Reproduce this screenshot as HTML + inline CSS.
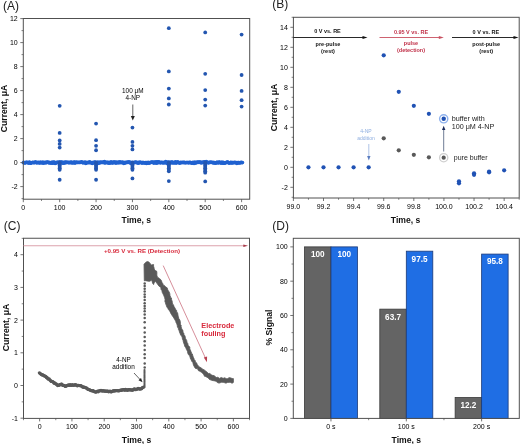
<!DOCTYPE html>
<html><head><meta charset="utf-8"><style>
html,body{margin:0;padding:0;background:#fff;width:520px;height:444px;overflow:hidden}
svg{display:block;filter:blur(0.45px)}
</style></head><body>
<svg width="520" height="444" viewBox="0 0 520 444">
<rect width="520" height="444" fill="#fff"/>
<text x="3.0" y="9.7" font-size="12" fill="#222" font-family="Liberation Sans, sans-serif">(A)</text>
<circle cx="23.30" cy="162.64" r="1.75" fill="#2062d0"/>
<circle cx="23.74" cy="162.37" r="1.75" fill="#2062d0"/>
<circle cx="24.17" cy="162.63" r="1.75" fill="#2062d0"/>
<circle cx="24.61" cy="162.66" r="1.75" fill="#2062d0"/>
<circle cx="25.05" cy="162.88" r="1.75" fill="#2062d0"/>
<circle cx="25.48" cy="162.63" r="1.75" fill="#2062d0"/>
<circle cx="25.92" cy="162.15" r="1.75" fill="#2062d0"/>
<circle cx="26.36" cy="162.40" r="1.75" fill="#2062d0"/>
<circle cx="26.79" cy="162.18" r="1.75" fill="#2062d0"/>
<circle cx="27.23" cy="162.46" r="1.75" fill="#2062d0"/>
<circle cx="27.67" cy="162.41" r="1.75" fill="#2062d0"/>
<circle cx="28.10" cy="162.48" r="1.75" fill="#2062d0"/>
<circle cx="28.54" cy="163.15" r="1.75" fill="#2062d0"/>
<circle cx="28.98" cy="162.24" r="1.75" fill="#2062d0"/>
<circle cx="29.41" cy="162.37" r="1.75" fill="#2062d0"/>
<circle cx="29.85" cy="162.37" r="1.75" fill="#2062d0"/>
<circle cx="30.29" cy="163.16" r="1.75" fill="#2062d0"/>
<circle cx="30.72" cy="163.18" r="1.75" fill="#2062d0"/>
<circle cx="31.16" cy="162.87" r="1.75" fill="#2062d0"/>
<circle cx="31.60" cy="162.72" r="1.75" fill="#2062d0"/>
<circle cx="32.03" cy="162.44" r="1.75" fill="#2062d0"/>
<circle cx="32.47" cy="162.57" r="1.75" fill="#2062d0"/>
<circle cx="32.91" cy="162.36" r="1.75" fill="#2062d0"/>
<circle cx="33.34" cy="162.78" r="1.75" fill="#2062d0"/>
<circle cx="33.78" cy="162.44" r="1.75" fill="#2062d0"/>
<circle cx="34.21" cy="162.41" r="1.75" fill="#2062d0"/>
<circle cx="34.65" cy="162.79" r="1.75" fill="#2062d0"/>
<circle cx="35.09" cy="161.93" r="1.75" fill="#2062d0"/>
<circle cx="35.52" cy="162.35" r="1.75" fill="#2062d0"/>
<circle cx="35.96" cy="162.12" r="1.75" fill="#2062d0"/>
<circle cx="36.40" cy="162.77" r="1.75" fill="#2062d0"/>
<circle cx="36.83" cy="162.82" r="1.75" fill="#2062d0"/>
<circle cx="37.27" cy="162.67" r="1.75" fill="#2062d0"/>
<circle cx="37.71" cy="162.59" r="1.75" fill="#2062d0"/>
<circle cx="38.14" cy="162.32" r="1.75" fill="#2062d0"/>
<circle cx="38.58" cy="162.46" r="1.75" fill="#2062d0"/>
<circle cx="39.02" cy="162.71" r="1.75" fill="#2062d0"/>
<circle cx="39.45" cy="162.89" r="1.75" fill="#2062d0"/>
<circle cx="39.89" cy="162.74" r="1.75" fill="#2062d0"/>
<circle cx="40.33" cy="162.11" r="1.75" fill="#2062d0"/>
<circle cx="40.76" cy="162.84" r="1.75" fill="#2062d0"/>
<circle cx="41.20" cy="162.46" r="1.75" fill="#2062d0"/>
<circle cx="41.64" cy="162.40" r="1.75" fill="#2062d0"/>
<circle cx="42.07" cy="163.09" r="1.75" fill="#2062d0"/>
<circle cx="42.51" cy="162.53" r="1.75" fill="#2062d0"/>
<circle cx="42.95" cy="162.08" r="1.75" fill="#2062d0"/>
<circle cx="43.38" cy="163.28" r="1.75" fill="#2062d0"/>
<circle cx="43.82" cy="162.67" r="1.75" fill="#2062d0"/>
<circle cx="44.26" cy="162.59" r="1.75" fill="#2062d0"/>
<circle cx="44.69" cy="162.84" r="1.75" fill="#2062d0"/>
<circle cx="45.13" cy="162.37" r="1.75" fill="#2062d0"/>
<circle cx="45.57" cy="162.57" r="1.75" fill="#2062d0"/>
<circle cx="46.00" cy="163.08" r="1.75" fill="#2062d0"/>
<circle cx="46.44" cy="162.25" r="1.75" fill="#2062d0"/>
<circle cx="46.88" cy="162.31" r="1.75" fill="#2062d0"/>
<circle cx="47.31" cy="162.21" r="1.75" fill="#2062d0"/>
<circle cx="47.75" cy="162.03" r="1.75" fill="#2062d0"/>
<circle cx="48.19" cy="162.42" r="1.75" fill="#2062d0"/>
<circle cx="48.62" cy="162.51" r="1.75" fill="#2062d0"/>
<circle cx="49.06" cy="163.02" r="1.75" fill="#2062d0"/>
<circle cx="49.50" cy="162.33" r="1.75" fill="#2062d0"/>
<circle cx="49.93" cy="162.77" r="1.75" fill="#2062d0"/>
<circle cx="50.37" cy="162.71" r="1.75" fill="#2062d0"/>
<circle cx="50.81" cy="163.01" r="1.75" fill="#2062d0"/>
<circle cx="51.24" cy="162.90" r="1.75" fill="#2062d0"/>
<circle cx="51.68" cy="162.74" r="1.75" fill="#2062d0"/>
<circle cx="52.12" cy="162.09" r="1.75" fill="#2062d0"/>
<circle cx="52.55" cy="163.28" r="1.75" fill="#2062d0"/>
<circle cx="52.99" cy="163.07" r="1.75" fill="#2062d0"/>
<circle cx="53.43" cy="162.46" r="1.75" fill="#2062d0"/>
<circle cx="53.86" cy="162.03" r="1.75" fill="#2062d0"/>
<circle cx="54.30" cy="162.34" r="1.75" fill="#2062d0"/>
<circle cx="54.74" cy="163.23" r="1.75" fill="#2062d0"/>
<circle cx="55.17" cy="163.46" r="1.75" fill="#2062d0"/>
<circle cx="55.61" cy="162.42" r="1.75" fill="#2062d0"/>
<circle cx="56.05" cy="162.82" r="1.75" fill="#2062d0"/>
<circle cx="56.48" cy="162.95" r="1.75" fill="#2062d0"/>
<circle cx="56.92" cy="162.20" r="1.75" fill="#2062d0"/>
<circle cx="57.35" cy="162.15" r="1.75" fill="#2062d0"/>
<circle cx="57.79" cy="162.49" r="1.75" fill="#2062d0"/>
<circle cx="58.23" cy="162.46" r="1.75" fill="#2062d0"/>
<circle cx="58.66" cy="162.39" r="1.75" fill="#2062d0"/>
<circle cx="59.10" cy="161.98" r="1.75" fill="#2062d0"/>
<circle cx="59.54" cy="162.33" r="1.75" fill="#2062d0"/>
<circle cx="59.97" cy="162.36" r="1.75" fill="#2062d0"/>
<circle cx="60.41" cy="162.35" r="1.75" fill="#2062d0"/>
<circle cx="60.85" cy="163.11" r="1.75" fill="#2062d0"/>
<circle cx="61.28" cy="162.09" r="1.75" fill="#2062d0"/>
<circle cx="61.72" cy="162.21" r="1.75" fill="#2062d0"/>
<circle cx="62.16" cy="162.36" r="1.75" fill="#2062d0"/>
<circle cx="62.59" cy="163.26" r="1.75" fill="#2062d0"/>
<circle cx="63.03" cy="162.78" r="1.75" fill="#2062d0"/>
<circle cx="63.47" cy="162.25" r="1.75" fill="#2062d0"/>
<circle cx="63.90" cy="163.20" r="1.75" fill="#2062d0"/>
<circle cx="64.34" cy="162.62" r="1.75" fill="#2062d0"/>
<circle cx="64.78" cy="162.18" r="1.75" fill="#2062d0"/>
<circle cx="65.21" cy="163.02" r="1.75" fill="#2062d0"/>
<circle cx="65.65" cy="161.97" r="1.75" fill="#2062d0"/>
<circle cx="66.09" cy="162.35" r="1.75" fill="#2062d0"/>
<circle cx="66.52" cy="162.60" r="1.75" fill="#2062d0"/>
<circle cx="66.96" cy="162.43" r="1.75" fill="#2062d0"/>
<circle cx="67.40" cy="162.32" r="1.75" fill="#2062d0"/>
<circle cx="67.83" cy="162.51" r="1.75" fill="#2062d0"/>
<circle cx="68.27" cy="162.14" r="1.75" fill="#2062d0"/>
<circle cx="68.71" cy="162.79" r="1.75" fill="#2062d0"/>
<circle cx="69.14" cy="162.70" r="1.75" fill="#2062d0"/>
<circle cx="69.58" cy="162.17" r="1.75" fill="#2062d0"/>
<circle cx="70.02" cy="162.54" r="1.75" fill="#2062d0"/>
<circle cx="70.45" cy="162.87" r="1.75" fill="#2062d0"/>
<circle cx="70.89" cy="162.21" r="1.75" fill="#2062d0"/>
<circle cx="71.33" cy="162.02" r="1.75" fill="#2062d0"/>
<circle cx="71.76" cy="162.71" r="1.75" fill="#2062d0"/>
<circle cx="72.20" cy="163.05" r="1.75" fill="#2062d0"/>
<circle cx="72.64" cy="162.60" r="1.75" fill="#2062d0"/>
<circle cx="73.07" cy="162.60" r="1.75" fill="#2062d0"/>
<circle cx="73.51" cy="162.66" r="1.75" fill="#2062d0"/>
<circle cx="73.95" cy="162.04" r="1.75" fill="#2062d0"/>
<circle cx="74.38" cy="162.92" r="1.75" fill="#2062d0"/>
<circle cx="74.82" cy="162.10" r="1.75" fill="#2062d0"/>
<circle cx="75.26" cy="163.01" r="1.75" fill="#2062d0"/>
<circle cx="75.69" cy="162.83" r="1.75" fill="#2062d0"/>
<circle cx="76.13" cy="162.32" r="1.75" fill="#2062d0"/>
<circle cx="76.57" cy="162.14" r="1.75" fill="#2062d0"/>
<circle cx="77.00" cy="162.24" r="1.75" fill="#2062d0"/>
<circle cx="77.44" cy="162.43" r="1.75" fill="#2062d0"/>
<circle cx="77.88" cy="162.50" r="1.75" fill="#2062d0"/>
<circle cx="78.31" cy="162.50" r="1.75" fill="#2062d0"/>
<circle cx="78.75" cy="162.34" r="1.75" fill="#2062d0"/>
<circle cx="79.18" cy="162.61" r="1.75" fill="#2062d0"/>
<circle cx="79.62" cy="162.45" r="1.75" fill="#2062d0"/>
<circle cx="80.06" cy="162.34" r="1.75" fill="#2062d0"/>
<circle cx="80.49" cy="162.55" r="1.75" fill="#2062d0"/>
<circle cx="80.93" cy="162.27" r="1.75" fill="#2062d0"/>
<circle cx="81.37" cy="162.35" r="1.75" fill="#2062d0"/>
<circle cx="81.80" cy="161.83" r="1.75" fill="#2062d0"/>
<circle cx="82.24" cy="162.43" r="1.75" fill="#2062d0"/>
<circle cx="82.68" cy="162.70" r="1.75" fill="#2062d0"/>
<circle cx="83.11" cy="162.68" r="1.75" fill="#2062d0"/>
<circle cx="83.55" cy="162.55" r="1.75" fill="#2062d0"/>
<circle cx="83.99" cy="162.22" r="1.75" fill="#2062d0"/>
<circle cx="84.42" cy="162.67" r="1.75" fill="#2062d0"/>
<circle cx="84.86" cy="162.41" r="1.75" fill="#2062d0"/>
<circle cx="85.30" cy="161.89" r="1.75" fill="#2062d0"/>
<circle cx="85.73" cy="163.47" r="1.75" fill="#2062d0"/>
<circle cx="86.17" cy="162.95" r="1.75" fill="#2062d0"/>
<circle cx="86.61" cy="162.46" r="1.75" fill="#2062d0"/>
<circle cx="87.04" cy="162.41" r="1.75" fill="#2062d0"/>
<circle cx="87.48" cy="162.46" r="1.75" fill="#2062d0"/>
<circle cx="87.92" cy="162.71" r="1.75" fill="#2062d0"/>
<circle cx="88.35" cy="162.31" r="1.75" fill="#2062d0"/>
<circle cx="88.79" cy="162.45" r="1.75" fill="#2062d0"/>
<circle cx="89.23" cy="162.74" r="1.75" fill="#2062d0"/>
<circle cx="89.66" cy="161.68" r="1.75" fill="#2062d0"/>
<circle cx="90.10" cy="162.42" r="1.75" fill="#2062d0"/>
<circle cx="90.54" cy="162.75" r="1.75" fill="#2062d0"/>
<circle cx="90.97" cy="162.59" r="1.75" fill="#2062d0"/>
<circle cx="91.41" cy="162.63" r="1.75" fill="#2062d0"/>
<circle cx="91.85" cy="162.57" r="1.75" fill="#2062d0"/>
<circle cx="92.28" cy="163.53" r="1.75" fill="#2062d0"/>
<circle cx="92.72" cy="162.73" r="1.75" fill="#2062d0"/>
<circle cx="93.16" cy="162.19" r="1.75" fill="#2062d0"/>
<circle cx="93.59" cy="162.97" r="1.75" fill="#2062d0"/>
<circle cx="94.03" cy="162.57" r="1.75" fill="#2062d0"/>
<circle cx="94.47" cy="162.21" r="1.75" fill="#2062d0"/>
<circle cx="94.90" cy="162.24" r="1.75" fill="#2062d0"/>
<circle cx="95.34" cy="162.01" r="1.75" fill="#2062d0"/>
<circle cx="95.78" cy="163.16" r="1.75" fill="#2062d0"/>
<circle cx="96.21" cy="162.68" r="1.75" fill="#2062d0"/>
<circle cx="96.65" cy="162.67" r="1.75" fill="#2062d0"/>
<circle cx="97.09" cy="162.33" r="1.75" fill="#2062d0"/>
<circle cx="97.52" cy="162.16" r="1.75" fill="#2062d0"/>
<circle cx="97.96" cy="163.52" r="1.75" fill="#2062d0"/>
<circle cx="98.40" cy="162.16" r="1.75" fill="#2062d0"/>
<circle cx="98.83" cy="163.07" r="1.75" fill="#2062d0"/>
<circle cx="99.27" cy="162.30" r="1.75" fill="#2062d0"/>
<circle cx="99.70" cy="163.09" r="1.75" fill="#2062d0"/>
<circle cx="100.14" cy="162.49" r="1.75" fill="#2062d0"/>
<circle cx="100.58" cy="162.12" r="1.75" fill="#2062d0"/>
<circle cx="101.01" cy="162.60" r="1.75" fill="#2062d0"/>
<circle cx="101.45" cy="162.48" r="1.75" fill="#2062d0"/>
<circle cx="101.89" cy="162.26" r="1.75" fill="#2062d0"/>
<circle cx="102.32" cy="162.50" r="1.75" fill="#2062d0"/>
<circle cx="102.76" cy="162.58" r="1.75" fill="#2062d0"/>
<circle cx="103.20" cy="162.00" r="1.75" fill="#2062d0"/>
<circle cx="103.63" cy="162.17" r="1.75" fill="#2062d0"/>
<circle cx="104.07" cy="162.66" r="1.75" fill="#2062d0"/>
<circle cx="104.51" cy="161.56" r="1.75" fill="#2062d0"/>
<circle cx="104.94" cy="162.96" r="1.75" fill="#2062d0"/>
<circle cx="105.38" cy="162.22" r="1.75" fill="#2062d0"/>
<circle cx="105.82" cy="162.65" r="1.75" fill="#2062d0"/>
<circle cx="106.25" cy="162.50" r="1.75" fill="#2062d0"/>
<circle cx="106.69" cy="162.30" r="1.75" fill="#2062d0"/>
<circle cx="107.13" cy="162.47" r="1.75" fill="#2062d0"/>
<circle cx="107.56" cy="162.32" r="1.75" fill="#2062d0"/>
<circle cx="108.00" cy="163.10" r="1.75" fill="#2062d0"/>
<circle cx="108.44" cy="163.09" r="1.75" fill="#2062d0"/>
<circle cx="108.87" cy="162.33" r="1.75" fill="#2062d0"/>
<circle cx="109.31" cy="162.90" r="1.75" fill="#2062d0"/>
<circle cx="109.75" cy="162.92" r="1.75" fill="#2062d0"/>
<circle cx="110.18" cy="163.08" r="1.75" fill="#2062d0"/>
<circle cx="110.62" cy="162.09" r="1.75" fill="#2062d0"/>
<circle cx="111.06" cy="162.28" r="1.75" fill="#2062d0"/>
<circle cx="111.49" cy="162.02" r="1.75" fill="#2062d0"/>
<circle cx="111.93" cy="162.89" r="1.75" fill="#2062d0"/>
<circle cx="112.37" cy="162.55" r="1.75" fill="#2062d0"/>
<circle cx="112.80" cy="162.96" r="1.75" fill="#2062d0"/>
<circle cx="113.24" cy="162.27" r="1.75" fill="#2062d0"/>
<circle cx="113.68" cy="161.98" r="1.75" fill="#2062d0"/>
<circle cx="114.11" cy="162.87" r="1.75" fill="#2062d0"/>
<circle cx="114.55" cy="161.99" r="1.75" fill="#2062d0"/>
<circle cx="114.99" cy="162.19" r="1.75" fill="#2062d0"/>
<circle cx="115.42" cy="162.61" r="1.75" fill="#2062d0"/>
<circle cx="115.86" cy="163.26" r="1.75" fill="#2062d0"/>
<circle cx="116.30" cy="162.04" r="1.75" fill="#2062d0"/>
<circle cx="116.73" cy="162.58" r="1.75" fill="#2062d0"/>
<circle cx="117.17" cy="162.77" r="1.75" fill="#2062d0"/>
<circle cx="117.61" cy="162.41" r="1.75" fill="#2062d0"/>
<circle cx="118.04" cy="162.40" r="1.75" fill="#2062d0"/>
<circle cx="118.48" cy="162.01" r="1.75" fill="#2062d0"/>
<circle cx="118.92" cy="162.92" r="1.75" fill="#2062d0"/>
<circle cx="119.35" cy="162.14" r="1.75" fill="#2062d0"/>
<circle cx="119.79" cy="162.01" r="1.75" fill="#2062d0"/>
<circle cx="120.23" cy="162.03" r="1.75" fill="#2062d0"/>
<circle cx="120.66" cy="162.62" r="1.75" fill="#2062d0"/>
<circle cx="121.10" cy="162.82" r="1.75" fill="#2062d0"/>
<circle cx="121.53" cy="162.18" r="1.75" fill="#2062d0"/>
<circle cx="121.97" cy="162.51" r="1.75" fill="#2062d0"/>
<circle cx="122.41" cy="162.51" r="1.75" fill="#2062d0"/>
<circle cx="122.84" cy="162.04" r="1.75" fill="#2062d0"/>
<circle cx="123.28" cy="162.64" r="1.75" fill="#2062d0"/>
<circle cx="123.72" cy="163.38" r="1.75" fill="#2062d0"/>
<circle cx="124.15" cy="162.69" r="1.75" fill="#2062d0"/>
<circle cx="124.59" cy="163.22" r="1.75" fill="#2062d0"/>
<circle cx="125.03" cy="162.26" r="1.75" fill="#2062d0"/>
<circle cx="125.46" cy="162.44" r="1.75" fill="#2062d0"/>
<circle cx="125.90" cy="162.77" r="1.75" fill="#2062d0"/>
<circle cx="126.34" cy="162.55" r="1.75" fill="#2062d0"/>
<circle cx="126.77" cy="162.25" r="1.75" fill="#2062d0"/>
<circle cx="127.21" cy="162.52" r="1.75" fill="#2062d0"/>
<circle cx="127.65" cy="162.07" r="1.75" fill="#2062d0"/>
<circle cx="128.08" cy="162.57" r="1.75" fill="#2062d0"/>
<circle cx="128.52" cy="162.18" r="1.75" fill="#2062d0"/>
<circle cx="128.96" cy="162.01" r="1.75" fill="#2062d0"/>
<circle cx="129.39" cy="161.97" r="1.75" fill="#2062d0"/>
<circle cx="129.83" cy="162.79" r="1.75" fill="#2062d0"/>
<circle cx="130.27" cy="162.23" r="1.75" fill="#2062d0"/>
<circle cx="130.70" cy="163.23" r="1.75" fill="#2062d0"/>
<circle cx="131.14" cy="162.94" r="1.75" fill="#2062d0"/>
<circle cx="131.58" cy="163.26" r="1.75" fill="#2062d0"/>
<circle cx="132.01" cy="162.17" r="1.75" fill="#2062d0"/>
<circle cx="132.45" cy="162.99" r="1.75" fill="#2062d0"/>
<circle cx="132.89" cy="162.55" r="1.75" fill="#2062d0"/>
<circle cx="133.32" cy="162.62" r="1.75" fill="#2062d0"/>
<circle cx="133.76" cy="162.56" r="1.75" fill="#2062d0"/>
<circle cx="134.20" cy="162.76" r="1.75" fill="#2062d0"/>
<circle cx="134.63" cy="162.47" r="1.75" fill="#2062d0"/>
<circle cx="135.07" cy="161.91" r="1.75" fill="#2062d0"/>
<circle cx="135.51" cy="162.53" r="1.75" fill="#2062d0"/>
<circle cx="135.94" cy="162.36" r="1.75" fill="#2062d0"/>
<circle cx="136.38" cy="162.19" r="1.75" fill="#2062d0"/>
<circle cx="136.82" cy="162.62" r="1.75" fill="#2062d0"/>
<circle cx="137.25" cy="163.00" r="1.75" fill="#2062d0"/>
<circle cx="137.69" cy="162.75" r="1.75" fill="#2062d0"/>
<circle cx="138.13" cy="162.16" r="1.75" fill="#2062d0"/>
<circle cx="138.56" cy="163.14" r="1.75" fill="#2062d0"/>
<circle cx="139.00" cy="162.77" r="1.75" fill="#2062d0"/>
<circle cx="139.44" cy="162.19" r="1.75" fill="#2062d0"/>
<circle cx="139.87" cy="162.26" r="1.75" fill="#2062d0"/>
<circle cx="140.31" cy="162.55" r="1.75" fill="#2062d0"/>
<circle cx="140.75" cy="162.26" r="1.75" fill="#2062d0"/>
<circle cx="141.18" cy="162.49" r="1.75" fill="#2062d0"/>
<circle cx="141.62" cy="162.97" r="1.75" fill="#2062d0"/>
<circle cx="142.06" cy="163.11" r="1.75" fill="#2062d0"/>
<circle cx="142.49" cy="162.78" r="1.75" fill="#2062d0"/>
<circle cx="142.93" cy="162.22" r="1.75" fill="#2062d0"/>
<circle cx="143.36" cy="162.75" r="1.75" fill="#2062d0"/>
<circle cx="143.80" cy="162.87" r="1.75" fill="#2062d0"/>
<circle cx="144.24" cy="162.83" r="1.75" fill="#2062d0"/>
<circle cx="144.67" cy="163.10" r="1.75" fill="#2062d0"/>
<circle cx="145.11" cy="162.59" r="1.75" fill="#2062d0"/>
<circle cx="145.55" cy="162.97" r="1.75" fill="#2062d0"/>
<circle cx="145.98" cy="162.42" r="1.75" fill="#2062d0"/>
<circle cx="146.42" cy="163.40" r="1.75" fill="#2062d0"/>
<circle cx="146.86" cy="162.43" r="1.75" fill="#2062d0"/>
<circle cx="147.29" cy="162.78" r="1.75" fill="#2062d0"/>
<circle cx="147.73" cy="163.25" r="1.75" fill="#2062d0"/>
<circle cx="148.17" cy="162.29" r="1.75" fill="#2062d0"/>
<circle cx="148.60" cy="162.65" r="1.75" fill="#2062d0"/>
<circle cx="149.04" cy="163.35" r="1.75" fill="#2062d0"/>
<circle cx="149.48" cy="162.87" r="1.75" fill="#2062d0"/>
<circle cx="149.91" cy="162.45" r="1.75" fill="#2062d0"/>
<circle cx="150.35" cy="162.72" r="1.75" fill="#2062d0"/>
<circle cx="150.79" cy="162.27" r="1.75" fill="#2062d0"/>
<circle cx="151.22" cy="162.28" r="1.75" fill="#2062d0"/>
<circle cx="151.66" cy="162.31" r="1.75" fill="#2062d0"/>
<circle cx="152.10" cy="162.43" r="1.75" fill="#2062d0"/>
<circle cx="152.53" cy="162.07" r="1.75" fill="#2062d0"/>
<circle cx="152.97" cy="162.31" r="1.75" fill="#2062d0"/>
<circle cx="153.41" cy="162.39" r="1.75" fill="#2062d0"/>
<circle cx="153.84" cy="163.30" r="1.75" fill="#2062d0"/>
<circle cx="154.28" cy="162.23" r="1.75" fill="#2062d0"/>
<circle cx="154.72" cy="162.08" r="1.75" fill="#2062d0"/>
<circle cx="155.15" cy="162.66" r="1.75" fill="#2062d0"/>
<circle cx="155.59" cy="162.72" r="1.75" fill="#2062d0"/>
<circle cx="156.03" cy="161.85" r="1.75" fill="#2062d0"/>
<circle cx="156.46" cy="163.18" r="1.75" fill="#2062d0"/>
<circle cx="156.90" cy="162.38" r="1.75" fill="#2062d0"/>
<circle cx="157.34" cy="161.68" r="1.75" fill="#2062d0"/>
<circle cx="157.77" cy="162.88" r="1.75" fill="#2062d0"/>
<circle cx="158.21" cy="162.30" r="1.75" fill="#2062d0"/>
<circle cx="158.65" cy="161.87" r="1.75" fill="#2062d0"/>
<circle cx="159.08" cy="162.59" r="1.75" fill="#2062d0"/>
<circle cx="159.52" cy="162.35" r="1.75" fill="#2062d0"/>
<circle cx="159.96" cy="162.23" r="1.75" fill="#2062d0"/>
<circle cx="160.39" cy="162.88" r="1.75" fill="#2062d0"/>
<circle cx="160.83" cy="162.58" r="1.75" fill="#2062d0"/>
<circle cx="161.27" cy="162.44" r="1.75" fill="#2062d0"/>
<circle cx="161.70" cy="162.25" r="1.75" fill="#2062d0"/>
<circle cx="162.14" cy="162.56" r="1.75" fill="#2062d0"/>
<circle cx="162.58" cy="162.62" r="1.75" fill="#2062d0"/>
<circle cx="163.01" cy="162.92" r="1.75" fill="#2062d0"/>
<circle cx="163.45" cy="162.68" r="1.75" fill="#2062d0"/>
<circle cx="163.89" cy="162.23" r="1.75" fill="#2062d0"/>
<circle cx="164.32" cy="162.51" r="1.75" fill="#2062d0"/>
<circle cx="164.76" cy="162.86" r="1.75" fill="#2062d0"/>
<circle cx="165.19" cy="162.85" r="1.75" fill="#2062d0"/>
<circle cx="165.63" cy="161.59" r="1.75" fill="#2062d0"/>
<circle cx="166.07" cy="162.14" r="1.75" fill="#2062d0"/>
<circle cx="166.50" cy="162.32" r="1.75" fill="#2062d0"/>
<circle cx="166.94" cy="163.48" r="1.75" fill="#2062d0"/>
<circle cx="167.38" cy="162.33" r="1.75" fill="#2062d0"/>
<circle cx="167.81" cy="162.38" r="1.75" fill="#2062d0"/>
<circle cx="168.25" cy="161.94" r="1.75" fill="#2062d0"/>
<circle cx="168.69" cy="162.40" r="1.75" fill="#2062d0"/>
<circle cx="169.12" cy="162.57" r="1.75" fill="#2062d0"/>
<circle cx="169.56" cy="162.36" r="1.75" fill="#2062d0"/>
<circle cx="170.00" cy="163.25" r="1.75" fill="#2062d0"/>
<circle cx="170.43" cy="162.18" r="1.75" fill="#2062d0"/>
<circle cx="170.87" cy="162.43" r="1.75" fill="#2062d0"/>
<circle cx="171.31" cy="162.80" r="1.75" fill="#2062d0"/>
<circle cx="171.74" cy="162.07" r="1.75" fill="#2062d0"/>
<circle cx="172.18" cy="161.90" r="1.75" fill="#2062d0"/>
<circle cx="172.62" cy="163.05" r="1.75" fill="#2062d0"/>
<circle cx="173.05" cy="162.79" r="1.75" fill="#2062d0"/>
<circle cx="173.49" cy="162.45" r="1.75" fill="#2062d0"/>
<circle cx="173.93" cy="162.48" r="1.75" fill="#2062d0"/>
<circle cx="174.36" cy="162.69" r="1.75" fill="#2062d0"/>
<circle cx="174.80" cy="162.90" r="1.75" fill="#2062d0"/>
<circle cx="175.24" cy="161.79" r="1.75" fill="#2062d0"/>
<circle cx="175.67" cy="162.18" r="1.75" fill="#2062d0"/>
<circle cx="176.11" cy="162.98" r="1.75" fill="#2062d0"/>
<circle cx="176.55" cy="163.03" r="1.75" fill="#2062d0"/>
<circle cx="176.98" cy="161.94" r="1.75" fill="#2062d0"/>
<circle cx="177.42" cy="162.19" r="1.75" fill="#2062d0"/>
<circle cx="177.86" cy="161.89" r="1.75" fill="#2062d0"/>
<circle cx="178.29" cy="162.26" r="1.75" fill="#2062d0"/>
<circle cx="178.73" cy="162.86" r="1.75" fill="#2062d0"/>
<circle cx="179.17" cy="162.46" r="1.75" fill="#2062d0"/>
<circle cx="179.60" cy="163.33" r="1.75" fill="#2062d0"/>
<circle cx="180.04" cy="162.82" r="1.75" fill="#2062d0"/>
<circle cx="180.48" cy="162.57" r="1.75" fill="#2062d0"/>
<circle cx="180.91" cy="162.36" r="1.75" fill="#2062d0"/>
<circle cx="181.35" cy="162.81" r="1.75" fill="#2062d0"/>
<circle cx="181.79" cy="162.59" r="1.75" fill="#2062d0"/>
<circle cx="182.22" cy="162.38" r="1.75" fill="#2062d0"/>
<circle cx="182.66" cy="162.41" r="1.75" fill="#2062d0"/>
<circle cx="183.10" cy="162.32" r="1.75" fill="#2062d0"/>
<circle cx="183.53" cy="162.47" r="1.75" fill="#2062d0"/>
<circle cx="183.97" cy="162.67" r="1.75" fill="#2062d0"/>
<circle cx="184.41" cy="162.27" r="1.75" fill="#2062d0"/>
<circle cx="184.84" cy="162.53" r="1.75" fill="#2062d0"/>
<circle cx="185.28" cy="162.85" r="1.75" fill="#2062d0"/>
<circle cx="185.72" cy="162.78" r="1.75" fill="#2062d0"/>
<circle cx="186.15" cy="162.55" r="1.75" fill="#2062d0"/>
<circle cx="186.59" cy="162.59" r="1.75" fill="#2062d0"/>
<circle cx="187.02" cy="162.49" r="1.75" fill="#2062d0"/>
<circle cx="187.46" cy="162.55" r="1.75" fill="#2062d0"/>
<circle cx="187.90" cy="162.49" r="1.75" fill="#2062d0"/>
<circle cx="188.33" cy="162.60" r="1.75" fill="#2062d0"/>
<circle cx="188.77" cy="163.00" r="1.75" fill="#2062d0"/>
<circle cx="189.21" cy="162.40" r="1.75" fill="#2062d0"/>
<circle cx="189.64" cy="162.17" r="1.75" fill="#2062d0"/>
<circle cx="190.08" cy="162.39" r="1.75" fill="#2062d0"/>
<circle cx="190.52" cy="162.62" r="1.75" fill="#2062d0"/>
<circle cx="190.95" cy="162.39" r="1.75" fill="#2062d0"/>
<circle cx="191.39" cy="162.90" r="1.75" fill="#2062d0"/>
<circle cx="191.83" cy="163.23" r="1.75" fill="#2062d0"/>
<circle cx="192.26" cy="162.53" r="1.75" fill="#2062d0"/>
<circle cx="192.70" cy="162.88" r="1.75" fill="#2062d0"/>
<circle cx="193.14" cy="162.28" r="1.75" fill="#2062d0"/>
<circle cx="193.57" cy="162.94" r="1.75" fill="#2062d0"/>
<circle cx="194.01" cy="163.50" r="1.75" fill="#2062d0"/>
<circle cx="194.45" cy="162.92" r="1.75" fill="#2062d0"/>
<circle cx="194.88" cy="161.98" r="1.75" fill="#2062d0"/>
<circle cx="195.32" cy="162.69" r="1.75" fill="#2062d0"/>
<circle cx="195.76" cy="163.04" r="1.75" fill="#2062d0"/>
<circle cx="196.19" cy="162.82" r="1.75" fill="#2062d0"/>
<circle cx="196.63" cy="162.36" r="1.75" fill="#2062d0"/>
<circle cx="197.07" cy="162.37" r="1.75" fill="#2062d0"/>
<circle cx="197.50" cy="162.49" r="1.75" fill="#2062d0"/>
<circle cx="197.94" cy="162.02" r="1.75" fill="#2062d0"/>
<circle cx="198.38" cy="162.30" r="1.75" fill="#2062d0"/>
<circle cx="198.81" cy="162.56" r="1.75" fill="#2062d0"/>
<circle cx="199.25" cy="162.34" r="1.75" fill="#2062d0"/>
<circle cx="199.69" cy="161.95" r="1.75" fill="#2062d0"/>
<circle cx="200.12" cy="162.20" r="1.75" fill="#2062d0"/>
<circle cx="200.56" cy="162.18" r="1.75" fill="#2062d0"/>
<circle cx="201.00" cy="162.94" r="1.75" fill="#2062d0"/>
<circle cx="201.43" cy="162.60" r="1.75" fill="#2062d0"/>
<circle cx="201.87" cy="162.29" r="1.75" fill="#2062d0"/>
<circle cx="202.31" cy="162.66" r="1.75" fill="#2062d0"/>
<circle cx="202.74" cy="162.17" r="1.75" fill="#2062d0"/>
<circle cx="203.18" cy="162.34" r="1.75" fill="#2062d0"/>
<circle cx="203.62" cy="162.22" r="1.75" fill="#2062d0"/>
<circle cx="204.05" cy="162.63" r="1.75" fill="#2062d0"/>
<circle cx="204.49" cy="161.63" r="1.75" fill="#2062d0"/>
<circle cx="204.93" cy="162.10" r="1.75" fill="#2062d0"/>
<circle cx="205.36" cy="162.63" r="1.75" fill="#2062d0"/>
<circle cx="205.80" cy="162.52" r="1.75" fill="#2062d0"/>
<circle cx="206.24" cy="161.62" r="1.75" fill="#2062d0"/>
<circle cx="206.67" cy="162.67" r="1.75" fill="#2062d0"/>
<circle cx="207.11" cy="162.24" r="1.75" fill="#2062d0"/>
<circle cx="207.55" cy="162.20" r="1.75" fill="#2062d0"/>
<circle cx="207.98" cy="162.55" r="1.75" fill="#2062d0"/>
<circle cx="208.42" cy="162.97" r="1.75" fill="#2062d0"/>
<circle cx="208.85" cy="162.48" r="1.75" fill="#2062d0"/>
<circle cx="209.29" cy="162.42" r="1.75" fill="#2062d0"/>
<circle cx="209.73" cy="162.14" r="1.75" fill="#2062d0"/>
<circle cx="210.16" cy="162.27" r="1.75" fill="#2062d0"/>
<circle cx="210.60" cy="162.54" r="1.75" fill="#2062d0"/>
<circle cx="211.04" cy="162.24" r="1.75" fill="#2062d0"/>
<circle cx="211.47" cy="162.36" r="1.75" fill="#2062d0"/>
<circle cx="211.91" cy="162.48" r="1.75" fill="#2062d0"/>
<circle cx="212.35" cy="162.53" r="1.75" fill="#2062d0"/>
<circle cx="212.78" cy="162.64" r="1.75" fill="#2062d0"/>
<circle cx="213.22" cy="162.30" r="1.75" fill="#2062d0"/>
<circle cx="213.66" cy="162.93" r="1.75" fill="#2062d0"/>
<circle cx="214.09" cy="162.78" r="1.75" fill="#2062d0"/>
<circle cx="214.53" cy="162.55" r="1.75" fill="#2062d0"/>
<circle cx="214.97" cy="163.08" r="1.75" fill="#2062d0"/>
<circle cx="215.40" cy="162.71" r="1.75" fill="#2062d0"/>
<circle cx="215.84" cy="163.27" r="1.75" fill="#2062d0"/>
<circle cx="216.28" cy="162.80" r="1.75" fill="#2062d0"/>
<circle cx="216.71" cy="162.35" r="1.75" fill="#2062d0"/>
<circle cx="217.15" cy="162.35" r="1.75" fill="#2062d0"/>
<circle cx="217.59" cy="162.57" r="1.75" fill="#2062d0"/>
<circle cx="218.02" cy="162.63" r="1.75" fill="#2062d0"/>
<circle cx="218.46" cy="163.06" r="1.75" fill="#2062d0"/>
<circle cx="218.90" cy="161.89" r="1.75" fill="#2062d0"/>
<circle cx="219.33" cy="162.36" r="1.75" fill="#2062d0"/>
<circle cx="219.77" cy="162.16" r="1.75" fill="#2062d0"/>
<circle cx="220.21" cy="162.87" r="1.75" fill="#2062d0"/>
<circle cx="220.64" cy="162.62" r="1.75" fill="#2062d0"/>
<circle cx="221.08" cy="163.21" r="1.75" fill="#2062d0"/>
<circle cx="221.52" cy="162.27" r="1.75" fill="#2062d0"/>
<circle cx="221.95" cy="162.21" r="1.75" fill="#2062d0"/>
<circle cx="222.39" cy="163.23" r="1.75" fill="#2062d0"/>
<circle cx="222.83" cy="162.57" r="1.75" fill="#2062d0"/>
<circle cx="223.26" cy="162.32" r="1.75" fill="#2062d0"/>
<circle cx="223.70" cy="163.18" r="1.75" fill="#2062d0"/>
<circle cx="224.14" cy="163.21" r="1.75" fill="#2062d0"/>
<circle cx="224.57" cy="162.93" r="1.75" fill="#2062d0"/>
<circle cx="225.01" cy="162.78" r="1.75" fill="#2062d0"/>
<circle cx="225.45" cy="163.06" r="1.75" fill="#2062d0"/>
<circle cx="225.88" cy="162.54" r="1.75" fill="#2062d0"/>
<circle cx="226.32" cy="162.46" r="1.75" fill="#2062d0"/>
<circle cx="226.76" cy="162.32" r="1.75" fill="#2062d0"/>
<circle cx="227.19" cy="162.30" r="1.75" fill="#2062d0"/>
<circle cx="227.63" cy="162.01" r="1.75" fill="#2062d0"/>
<circle cx="228.07" cy="162.13" r="1.75" fill="#2062d0"/>
<circle cx="228.50" cy="163.02" r="1.75" fill="#2062d0"/>
<circle cx="228.94" cy="162.73" r="1.75" fill="#2062d0"/>
<circle cx="229.38" cy="162.93" r="1.75" fill="#2062d0"/>
<circle cx="229.81" cy="162.94" r="1.75" fill="#2062d0"/>
<circle cx="230.25" cy="162.58" r="1.75" fill="#2062d0"/>
<circle cx="230.68" cy="162.55" r="1.75" fill="#2062d0"/>
<circle cx="231.12" cy="162.37" r="1.75" fill="#2062d0"/>
<circle cx="231.56" cy="163.12" r="1.75" fill="#2062d0"/>
<circle cx="231.99" cy="163.00" r="1.75" fill="#2062d0"/>
<circle cx="232.43" cy="162.56" r="1.75" fill="#2062d0"/>
<circle cx="232.87" cy="162.62" r="1.75" fill="#2062d0"/>
<circle cx="233.30" cy="162.66" r="1.75" fill="#2062d0"/>
<circle cx="233.74" cy="162.57" r="1.75" fill="#2062d0"/>
<circle cx="234.18" cy="162.82" r="1.75" fill="#2062d0"/>
<circle cx="234.61" cy="162.30" r="1.75" fill="#2062d0"/>
<circle cx="235.05" cy="162.42" r="1.75" fill="#2062d0"/>
<circle cx="235.49" cy="162.58" r="1.75" fill="#2062d0"/>
<circle cx="235.92" cy="162.79" r="1.75" fill="#2062d0"/>
<circle cx="236.36" cy="162.61" r="1.75" fill="#2062d0"/>
<circle cx="236.80" cy="163.53" r="1.75" fill="#2062d0"/>
<circle cx="237.23" cy="162.90" r="1.75" fill="#2062d0"/>
<circle cx="237.67" cy="162.54" r="1.75" fill="#2062d0"/>
<circle cx="238.11" cy="163.09" r="1.75" fill="#2062d0"/>
<circle cx="238.54" cy="162.48" r="1.75" fill="#2062d0"/>
<circle cx="238.98" cy="162.50" r="1.75" fill="#2062d0"/>
<circle cx="239.42" cy="163.05" r="1.75" fill="#2062d0"/>
<circle cx="239.85" cy="162.64" r="1.75" fill="#2062d0"/>
<circle cx="240.29" cy="162.66" r="1.75" fill="#2062d0"/>
<circle cx="240.73" cy="162.38" r="1.75" fill="#2062d0"/>
<circle cx="241.16" cy="162.33" r="1.75" fill="#2062d0"/>
<circle cx="241.60" cy="162.56" r="1.75" fill="#2062d0"/>
<circle cx="242.04" cy="162.86" r="1.75" fill="#2062d0"/>
<circle cx="242.47" cy="162.60" r="1.75" fill="#2062d0"/>
<circle cx="59.68" cy="105.84" r="1.9" fill="#2356b0"/>
<circle cx="59.68" cy="132.96" r="1.9" fill="#2356b0"/>
<circle cx="59.68" cy="140.52" r="1.9" fill="#2356b0"/>
<circle cx="59.68" cy="143.88" r="1.9" fill="#2356b0"/>
<circle cx="59.68" cy="147.60" r="1.9" fill="#2356b0"/>
<circle cx="96.07" cy="123.60" r="1.9" fill="#2356b0"/>
<circle cx="96.07" cy="140.16" r="1.9" fill="#2356b0"/>
<circle cx="96.07" cy="145.80" r="1.9" fill="#2356b0"/>
<circle cx="96.07" cy="150.24" r="1.9" fill="#2356b0"/>
<circle cx="132.45" cy="127.56" r="1.9" fill="#2356b0"/>
<circle cx="132.45" cy="141.96" r="1.9" fill="#2356b0"/>
<circle cx="132.45" cy="145.80" r="1.9" fill="#2356b0"/>
<circle cx="132.45" cy="149.40" r="1.9" fill="#2356b0"/>
<circle cx="168.83" cy="28.20" r="1.9" fill="#2356b0"/>
<circle cx="168.83" cy="71.40" r="1.9" fill="#2356b0"/>
<circle cx="168.83" cy="88.56" r="1.9" fill="#2356b0"/>
<circle cx="168.83" cy="98.40" r="1.9" fill="#2356b0"/>
<circle cx="168.83" cy="104.52" r="1.9" fill="#2356b0"/>
<circle cx="205.22" cy="32.40" r="1.9" fill="#2356b0"/>
<circle cx="205.22" cy="73.80" r="1.9" fill="#2356b0"/>
<circle cx="205.22" cy="90.12" r="1.9" fill="#2356b0"/>
<circle cx="205.22" cy="99.60" r="1.9" fill="#2356b0"/>
<circle cx="205.22" cy="105.60" r="1.9" fill="#2356b0"/>
<circle cx="241.60" cy="34.56" r="1.9" fill="#2356b0"/>
<circle cx="241.60" cy="75.00" r="1.9" fill="#2356b0"/>
<circle cx="241.60" cy="90.96" r="1.9" fill="#2356b0"/>
<circle cx="241.60" cy="100.20" r="1.9" fill="#2356b0"/>
<circle cx="241.60" cy="106.56" r="1.9" fill="#2356b0"/>
<circle cx="59.68" cy="162.60" r="1.9" fill="#2356b0"/>
<circle cx="59.68" cy="164.04" r="1.9" fill="#2356b0"/>
<circle cx="59.68" cy="165.48" r="1.9" fill="#2356b0"/>
<circle cx="59.68" cy="166.92" r="1.9" fill="#2356b0"/>
<circle cx="59.68" cy="168.36" r="1.9" fill="#2356b0"/>
<circle cx="59.68" cy="169.80" r="1.9" fill="#2356b0"/>
<circle cx="59.68" cy="179.76" r="1.9" fill="#2356b0"/>
<circle cx="96.07" cy="162.60" r="1.9" fill="#2356b0"/>
<circle cx="96.07" cy="164.04" r="1.9" fill="#2356b0"/>
<circle cx="96.07" cy="165.48" r="1.9" fill="#2356b0"/>
<circle cx="96.07" cy="166.92" r="1.9" fill="#2356b0"/>
<circle cx="96.07" cy="168.36" r="1.9" fill="#2356b0"/>
<circle cx="96.07" cy="169.80" r="1.9" fill="#2356b0"/>
<circle cx="96.07" cy="179.76" r="1.9" fill="#2356b0"/>
<circle cx="132.45" cy="162.60" r="1.9" fill="#2356b0"/>
<circle cx="132.45" cy="164.04" r="1.9" fill="#2356b0"/>
<circle cx="132.45" cy="165.48" r="1.9" fill="#2356b0"/>
<circle cx="132.45" cy="166.92" r="1.9" fill="#2356b0"/>
<circle cx="132.45" cy="168.36" r="1.9" fill="#2356b0"/>
<circle cx="132.45" cy="169.80" r="1.9" fill="#2356b0"/>
<circle cx="132.45" cy="178.44" r="1.9" fill="#2356b0"/>
<circle cx="168.83" cy="162.60" r="1.9" fill="#2356b0"/>
<circle cx="168.83" cy="164.04" r="1.9" fill="#2356b0"/>
<circle cx="168.83" cy="165.48" r="1.9" fill="#2356b0"/>
<circle cx="168.83" cy="166.92" r="1.9" fill="#2356b0"/>
<circle cx="168.83" cy="168.36" r="1.9" fill="#2356b0"/>
<circle cx="168.83" cy="169.80" r="1.9" fill="#2356b0"/>
<circle cx="168.83" cy="171.24" r="1.9" fill="#2356b0"/>
<circle cx="168.83" cy="181.08" r="1.9" fill="#2356b0"/>
<circle cx="205.22" cy="162.60" r="1.9" fill="#2356b0"/>
<circle cx="205.22" cy="164.04" r="1.9" fill="#2356b0"/>
<circle cx="205.22" cy="165.48" r="1.9" fill="#2356b0"/>
<circle cx="205.22" cy="166.92" r="1.9" fill="#2356b0"/>
<circle cx="205.22" cy="168.36" r="1.9" fill="#2356b0"/>
<circle cx="205.22" cy="169.80" r="1.9" fill="#2356b0"/>
<circle cx="205.22" cy="171.24" r="1.9" fill="#2356b0"/>
<circle cx="205.22" cy="172.68" r="1.9" fill="#2356b0"/>
<circle cx="205.22" cy="181.44" r="1.9" fill="#2356b0"/>
<rect x="23.3" y="18.5" width="226.39999999999998" height="180.7" fill="none" stroke="#505050" stroke-width="1"/>
<line x1="20.3" y1="186.6" x2="23.3" y2="186.6" stroke="#505050" stroke-width="0.8"/>
<text x="17.700000000000003" y="189.1" font-size="7.0" text-anchor="end" fill="#000000" font-family="Liberation Sans, sans-serif">-2</text>
<line x1="20.3" y1="162.6" x2="23.3" y2="162.6" stroke="#505050" stroke-width="0.8"/>
<text x="17.700000000000003" y="165.1" font-size="7.0" text-anchor="end" fill="#000000" font-family="Liberation Sans, sans-serif">0</text>
<line x1="20.3" y1="138.6" x2="23.3" y2="138.6" stroke="#505050" stroke-width="0.8"/>
<text x="17.700000000000003" y="141.1" font-size="7.0" text-anchor="end" fill="#000000" font-family="Liberation Sans, sans-serif">2</text>
<line x1="20.3" y1="114.6" x2="23.3" y2="114.6" stroke="#505050" stroke-width="0.8"/>
<text x="17.700000000000003" y="117.1" font-size="7.0" text-anchor="end" fill="#000000" font-family="Liberation Sans, sans-serif">4</text>
<line x1="20.3" y1="90.6" x2="23.3" y2="90.6" stroke="#505050" stroke-width="0.8"/>
<text x="17.700000000000003" y="93.1" font-size="7.0" text-anchor="end" fill="#000000" font-family="Liberation Sans, sans-serif">6</text>
<line x1="20.3" y1="66.6" x2="23.3" y2="66.6" stroke="#505050" stroke-width="0.8"/>
<text x="17.700000000000003" y="69.1" font-size="7.0" text-anchor="end" fill="#000000" font-family="Liberation Sans, sans-serif">8</text>
<line x1="20.3" y1="42.599999999999994" x2="23.3" y2="42.599999999999994" stroke="#505050" stroke-width="0.8"/>
<text x="17.700000000000003" y="45.099999999999994" font-size="7.0" text-anchor="end" fill="#000000" font-family="Liberation Sans, sans-serif">10</text>
<line x1="20.3" y1="18.599999999999994" x2="23.3" y2="18.599999999999994" stroke="#505050" stroke-width="0.8"/>
<text x="17.700000000000003" y="21.099999999999994" font-size="7.0" text-anchor="end" fill="#000000" font-family="Liberation Sans, sans-serif">12</text>
<line x1="21.5" y1="198.6" x2="23.3" y2="198.6" stroke="#505050" stroke-width="0.7"/>
<line x1="21.5" y1="174.6" x2="23.3" y2="174.6" stroke="#505050" stroke-width="0.7"/>
<line x1="21.5" y1="150.6" x2="23.3" y2="150.6" stroke="#505050" stroke-width="0.7"/>
<line x1="21.5" y1="126.6" x2="23.3" y2="126.6" stroke="#505050" stroke-width="0.7"/>
<line x1="21.5" y1="102.6" x2="23.3" y2="102.6" stroke="#505050" stroke-width="0.7"/>
<line x1="21.5" y1="78.6" x2="23.3" y2="78.6" stroke="#505050" stroke-width="0.7"/>
<line x1="21.5" y1="54.599999999999994" x2="23.3" y2="54.599999999999994" stroke="#505050" stroke-width="0.7"/>
<line x1="21.5" y1="30.599999999999994" x2="23.3" y2="30.599999999999994" stroke="#505050" stroke-width="0.7"/>
<line x1="23.3" y1="199.2" x2="23.3" y2="202.2" stroke="#505050" stroke-width="0.8"/>
<text x="23.3" y="210.1" font-size="7.0" text-anchor="middle" fill="#000000" font-family="Liberation Sans, sans-serif">0</text>
<line x1="59.68333333333334" y1="199.2" x2="59.68333333333334" y2="202.2" stroke="#505050" stroke-width="0.8"/>
<text x="59.68333333333334" y="210.1" font-size="7.0" text-anchor="middle" fill="#000000" font-family="Liberation Sans, sans-serif">100</text>
<line x1="96.06666666666666" y1="199.2" x2="96.06666666666666" y2="202.2" stroke="#505050" stroke-width="0.8"/>
<text x="96.06666666666666" y="210.1" font-size="7.0" text-anchor="middle" fill="#000000" font-family="Liberation Sans, sans-serif">200</text>
<line x1="132.45" y1="199.2" x2="132.45" y2="202.2" stroke="#505050" stroke-width="0.8"/>
<text x="132.45" y="210.1" font-size="7.0" text-anchor="middle" fill="#000000" font-family="Liberation Sans, sans-serif">300</text>
<line x1="168.83333333333334" y1="199.2" x2="168.83333333333334" y2="202.2" stroke="#505050" stroke-width="0.8"/>
<text x="168.83333333333334" y="210.1" font-size="7.0" text-anchor="middle" fill="#000000" font-family="Liberation Sans, sans-serif">400</text>
<line x1="205.21666666666664" y1="199.2" x2="205.21666666666664" y2="202.2" stroke="#505050" stroke-width="0.8"/>
<text x="205.21666666666664" y="210.1" font-size="7.0" text-anchor="middle" fill="#000000" font-family="Liberation Sans, sans-serif">500</text>
<line x1="241.6" y1="199.2" x2="241.6" y2="202.2" stroke="#505050" stroke-width="0.8"/>
<text x="241.6" y="210.1" font-size="7.0" text-anchor="middle" fill="#000000" font-family="Liberation Sans, sans-serif">600</text>
<line x1="41.49166666666667" y1="199.2" x2="41.49166666666667" y2="201.0" stroke="#505050" stroke-width="0.7"/>
<line x1="77.875" y1="199.2" x2="77.875" y2="201.0" stroke="#505050" stroke-width="0.7"/>
<line x1="114.25833333333331" y1="199.2" x2="114.25833333333331" y2="201.0" stroke="#505050" stroke-width="0.7"/>
<line x1="150.64166666666668" y1="199.2" x2="150.64166666666668" y2="201.0" stroke="#505050" stroke-width="0.7"/>
<line x1="187.02499999999998" y1="199.2" x2="187.02499999999998" y2="201.0" stroke="#505050" stroke-width="0.7"/>
<line x1="223.40833333333333" y1="199.2" x2="223.40833333333333" y2="201.0" stroke="#505050" stroke-width="0.7"/>
<text x="132.8" y="92.8" font-size="6.4" text-anchor="middle" fill="#000" font-family="Liberation Sans, sans-serif">100 μM</text>
<text x="132.8" y="100.2" font-size="6.4" text-anchor="middle" fill="#000" font-family="Liberation Sans, sans-serif">4-NP</text>
<line x1="132.8" y1="104.5" x2="132.8" y2="117" stroke="#222" stroke-width="0.7"/>
<path d="M130.8 116 L132.8 120.5 L134.8 116 Z" fill="#222"/>
<text x="136.3" y="223" font-size="8.6" font-weight="bold" text-anchor="middle" fill="#111" font-family="Liberation Sans, sans-serif">Time, s</text>
<text transform="translate(7.3,108.5) rotate(-90)" font-size="8.6" font-weight="bold" text-anchor="middle" fill="#111" font-family="Liberation Sans, sans-serif">Current, μA</text>
<text x="272.3" y="8.2" font-size="12" fill="#222" font-family="Liberation Sans, sans-serif">(B)</text>
<rect x="293.4" y="17.3" width="225.80000000000007" height="180.7" fill="none" stroke="#505050" stroke-width="1"/>
<line x1="290.4" y1="187.3" x2="293.4" y2="187.3" stroke="#505050" stroke-width="0.8"/>
<text x="287.79999999999995" y="189.8" font-size="7.0" text-anchor="end" fill="#000000" font-family="Liberation Sans, sans-serif">-2</text>
<line x1="290.4" y1="167.3" x2="293.4" y2="167.3" stroke="#505050" stroke-width="0.8"/>
<text x="287.79999999999995" y="169.8" font-size="7.0" text-anchor="end" fill="#000000" font-family="Liberation Sans, sans-serif">0</text>
<line x1="290.4" y1="147.3" x2="293.4" y2="147.3" stroke="#505050" stroke-width="0.8"/>
<text x="287.79999999999995" y="149.8" font-size="7.0" text-anchor="end" fill="#000000" font-family="Liberation Sans, sans-serif">2</text>
<line x1="290.4" y1="127.30000000000001" x2="293.4" y2="127.30000000000001" stroke="#505050" stroke-width="0.8"/>
<text x="287.79999999999995" y="129.8" font-size="7.0" text-anchor="end" fill="#000000" font-family="Liberation Sans, sans-serif">4</text>
<line x1="290.4" y1="107.30000000000001" x2="293.4" y2="107.30000000000001" stroke="#505050" stroke-width="0.8"/>
<text x="287.79999999999995" y="109.80000000000001" font-size="7.0" text-anchor="end" fill="#000000" font-family="Liberation Sans, sans-serif">6</text>
<line x1="290.4" y1="87.30000000000001" x2="293.4" y2="87.30000000000001" stroke="#505050" stroke-width="0.8"/>
<text x="287.79999999999995" y="89.80000000000001" font-size="7.0" text-anchor="end" fill="#000000" font-family="Liberation Sans, sans-serif">8</text>
<line x1="290.4" y1="67.30000000000001" x2="293.4" y2="67.30000000000001" stroke="#505050" stroke-width="0.8"/>
<text x="287.79999999999995" y="69.80000000000001" font-size="7.0" text-anchor="end" fill="#000000" font-family="Liberation Sans, sans-serif">10</text>
<line x1="290.4" y1="47.30000000000001" x2="293.4" y2="47.30000000000001" stroke="#505050" stroke-width="0.8"/>
<text x="287.79999999999995" y="49.80000000000001" font-size="7.0" text-anchor="end" fill="#000000" font-family="Liberation Sans, sans-serif">12</text>
<line x1="290.4" y1="27.30000000000001" x2="293.4" y2="27.30000000000001" stroke="#505050" stroke-width="0.8"/>
<text x="287.79999999999995" y="29.80000000000001" font-size="7.0" text-anchor="end" fill="#000000" font-family="Liberation Sans, sans-serif">14</text>
<line x1="291.59999999999997" y1="197.3" x2="293.4" y2="197.3" stroke="#505050" stroke-width="0.7"/>
<line x1="291.59999999999997" y1="177.3" x2="293.4" y2="177.3" stroke="#505050" stroke-width="0.7"/>
<line x1="291.59999999999997" y1="157.3" x2="293.4" y2="157.3" stroke="#505050" stroke-width="0.7"/>
<line x1="291.59999999999997" y1="137.3" x2="293.4" y2="137.3" stroke="#505050" stroke-width="0.7"/>
<line x1="291.59999999999997" y1="117.30000000000001" x2="293.4" y2="117.30000000000001" stroke="#505050" stroke-width="0.7"/>
<line x1="291.59999999999997" y1="97.30000000000001" x2="293.4" y2="97.30000000000001" stroke="#505050" stroke-width="0.7"/>
<line x1="291.59999999999997" y1="77.30000000000001" x2="293.4" y2="77.30000000000001" stroke="#505050" stroke-width="0.7"/>
<line x1="291.59999999999997" y1="57.30000000000001" x2="293.4" y2="57.30000000000001" stroke="#505050" stroke-width="0.7"/>
<line x1="291.59999999999997" y1="37.30000000000001" x2="293.4" y2="37.30000000000001" stroke="#505050" stroke-width="0.7"/>
<line x1="291.59999999999997" y1="17.30000000000001" x2="293.4" y2="17.30000000000001" stroke="#505050" stroke-width="0.7"/>
<line x1="293.4" y1="198.0" x2="293.4" y2="201.0" stroke="#505050" stroke-width="0.8"/>
<text x="293.4" y="208.9" font-size="7.0" text-anchor="middle" fill="#000000" font-family="Liberation Sans, sans-serif">99.0</text>
<line x1="323.5060000000004" y1="198.0" x2="323.5060000000004" y2="201.0" stroke="#505050" stroke-width="0.8"/>
<text x="323.5060000000004" y="208.9" font-size="7.0" text-anchor="middle" fill="#000000" font-family="Liberation Sans, sans-serif">99.2</text>
<line x1="353.6120000000008" y1="198.0" x2="353.6120000000008" y2="201.0" stroke="#505050" stroke-width="0.8"/>
<text x="353.6120000000008" y="208.9" font-size="7.0" text-anchor="middle" fill="#000000" font-family="Liberation Sans, sans-serif">99.4</text>
<line x1="383.7179999999991" y1="198.0" x2="383.7179999999991" y2="201.0" stroke="#505050" stroke-width="0.8"/>
<text x="383.7179999999991" y="208.9" font-size="7.0" text-anchor="middle" fill="#000000" font-family="Liberation Sans, sans-serif">99.6</text>
<line x1="413.82399999999956" y1="198.0" x2="413.82399999999956" y2="201.0" stroke="#505050" stroke-width="0.8"/>
<text x="413.82399999999956" y="208.9" font-size="7.0" text-anchor="middle" fill="#000000" font-family="Liberation Sans, sans-serif">99.8</text>
<line x1="443.92999999999995" y1="198.0" x2="443.92999999999995" y2="201.0" stroke="#505050" stroke-width="0.8"/>
<text x="443.92999999999995" y="208.9" font-size="7.0" text-anchor="middle" fill="#000000" font-family="Liberation Sans, sans-serif">100.0</text>
<line x1="474.0360000000004" y1="198.0" x2="474.0360000000004" y2="201.0" stroke="#505050" stroke-width="0.8"/>
<text x="474.0360000000004" y="208.9" font-size="7.0" text-anchor="middle" fill="#000000" font-family="Liberation Sans, sans-serif">100.2</text>
<line x1="504.14200000000085" y1="198.0" x2="504.14200000000085" y2="201.0" stroke="#505050" stroke-width="0.8"/>
<text x="504.14200000000085" y="208.9" font-size="7.0" text-anchor="middle" fill="#000000" font-family="Liberation Sans, sans-serif">100.4</text>
<line x1="308.4529999999991" y1="198.0" x2="308.4529999999991" y2="199.8" stroke="#505050" stroke-width="0.7"/>
<line x1="338.55899999999957" y1="198.0" x2="338.55899999999957" y2="199.8" stroke="#505050" stroke-width="0.7"/>
<line x1="368.66499999999996" y1="198.0" x2="368.66499999999996" y2="199.8" stroke="#505050" stroke-width="0.7"/>
<line x1="398.7710000000004" y1="198.0" x2="398.7710000000004" y2="199.8" stroke="#505050" stroke-width="0.7"/>
<line x1="428.87700000000086" y1="198.0" x2="428.87700000000086" y2="199.8" stroke="#505050" stroke-width="0.7"/>
<line x1="458.98299999999915" y1="198.0" x2="458.98299999999915" y2="199.8" stroke="#505050" stroke-width="0.7"/>
<line x1="489.08899999999954" y1="198.0" x2="489.08899999999954" y2="199.8" stroke="#505050" stroke-width="0.7"/>
<line x1="519.1949999999999" y1="198.0" x2="519.1949999999999" y2="199.8" stroke="#505050" stroke-width="0.7"/>
<circle cx="308.45" cy="167.30" r="2.1" fill="#2052b4"/>
<circle cx="323.51" cy="167.30" r="2.1" fill="#2052b4"/>
<circle cx="338.56" cy="167.30" r="2.1" fill="#2052b4"/>
<circle cx="353.61" cy="167.30" r="2.1" fill="#2052b4"/>
<circle cx="368.66" cy="167.30" r="2.1" fill="#2052b4"/>
<circle cx="383.72" cy="55.30" r="2.1" fill="#2052b4"/>
<circle cx="398.77" cy="91.80" r="2.1" fill="#2052b4"/>
<circle cx="413.82" cy="105.80" r="2.1" fill="#2052b4"/>
<circle cx="428.88" cy="113.80" r="2.1" fill="#2052b4"/>
<circle cx="458.98" cy="181.30" r="2.1" fill="#2052b4"/>
<circle cx="458.98" cy="183.30" r="2.1" fill="#2052b4"/>
<circle cx="474.04" cy="173.30" r="2.1" fill="#2052b4"/>
<circle cx="474.04" cy="174.80" r="2.1" fill="#2052b4"/>
<circle cx="489.09" cy="171.50" r="2.1" fill="#2052b4"/>
<circle cx="489.09" cy="172.30" r="2.1" fill="#2052b4"/>
<circle cx="504.14" cy="170.30" r="2.1" fill="#2052b4"/>
<circle cx="383.72" cy="138.30" r="2.1" fill="#595959"/>
<circle cx="398.77" cy="150.30" r="2.1" fill="#595959"/>
<circle cx="413.82" cy="154.80" r="2.1" fill="#595959"/>
<circle cx="428.88" cy="157.30" r="2.1" fill="#595959"/>
<line x1="293.4" y1="37.5" x2="364.5" y2="37.5" stroke="#111" stroke-width="0.9"/>
<path d="M362.5 35.9 L367.5 37.5 L362.5 39.1 Z" fill="#111"/>
<line x1="379.5" y1="37.5" x2="440.8" y2="37.5" stroke="#c85060" stroke-width="0.9"/>
<path d="M438.8 35.9 L443.8 37.5 L438.8 39.1 Z" fill="#c85060"/>
<line x1="452" y1="37.5" x2="515.5" y2="37.5" stroke="#111" stroke-width="0.9"/>
<path d="M513.5 35.9 L518.5 37.5 L513.5 39.1 Z" fill="#111"/>
<text x="327.5" y="33.0" font-size="5.5" font-weight="bold" text-anchor="middle" fill="#111" font-family="Liberation Sans, sans-serif">0 V vs. RE</text>
<text x="328" y="46.2" font-size="5.5" font-weight="bold" text-anchor="middle" fill="#111" font-family="Liberation Sans, sans-serif">pre-pulse</text>
<text x="328" y="52.8" font-size="5.5" font-weight="bold" text-anchor="middle" fill="#111" font-family="Liberation Sans, sans-serif">(rest)</text>
<text x="411" y="33.5" font-size="5.5" font-weight="bold" text-anchor="middle" fill="#c03048" font-family="Liberation Sans, sans-serif">0.95 V vs. RE</text>
<text x="411" y="45.0" font-size="5.5" font-weight="bold" text-anchor="middle" fill="#c03048" font-family="Liberation Sans, sans-serif">pulse</text>
<text x="411" y="52.0" font-size="5.5" font-weight="bold" text-anchor="middle" fill="#c03048" font-family="Liberation Sans, sans-serif">(detection)</text>
<text x="485.9" y="33.5" font-size="5.5" font-weight="bold" text-anchor="middle" fill="#111" font-family="Liberation Sans, sans-serif">0 V vs. RE</text>
<text x="486.2" y="46.0" font-size="5.5" font-weight="bold" text-anchor="middle" fill="#111" font-family="Liberation Sans, sans-serif">post-pulse</text>
<text x="486.2" y="53.0" font-size="5.5" font-weight="bold" text-anchor="middle" fill="#111" font-family="Liberation Sans, sans-serif">(rest)</text>
<text x="366" y="133" font-size="5"  text-anchor="middle" fill="#8eaee0" font-family="Liberation Sans, sans-serif">4-NP</text>
<text x="366" y="140" font-size="5"  text-anchor="middle" fill="#8eaee0" font-family="Liberation Sans, sans-serif">addition</text>
<line x1="368.8" y1="144" x2="368.8" y2="157" stroke="#9ab4e0" stroke-width="0.8"/>
<path d="M367.1 156 L368.8 160.5 L370.5 156 Z" fill="#5a7cc0"/>
<circle cx="443.7" cy="118.8" r="4.1" fill="none" stroke="#8fb2ee" stroke-width="1.4"/>
<circle cx="443.70" cy="118.80" r="2.2" fill="#2052b4"/>
<circle cx="443.7" cy="157.7" r="4.1" fill="none" stroke="#cfcfcf" stroke-width="1.3"/>
<circle cx="443.70" cy="157.70" r="2.1" fill="#595959"/>
<line x1="443.7" y1="151.5" x2="443.7" y2="129.5" stroke="#4a5a7a" stroke-width="0.8"/>
<path d="M442.0 130 L443.7 125.8 L445.4 130 Z" fill="#1a2a5a"/>
<text x="451.7" y="121" font-size="7.2" fill="#222" font-family="Liberation Sans, sans-serif">buffer with</text>
<text x="451.7" y="129" font-size="7.2" fill="#222" font-family="Liberation Sans, sans-serif">100 μM 4-NP</text>
<text x="453.8" y="160" font-size="7" fill="#222" font-family="Liberation Sans, sans-serif">pure buffer</text>
<text x="405.6" y="223" font-size="8.6" font-weight="bold" text-anchor="middle" fill="#111" font-family="Liberation Sans, sans-serif">Time, s</text>
<text transform="translate(276.5,107.5) rotate(-90)" font-size="8.6" font-weight="bold" text-anchor="middle" fill="#111" font-family="Liberation Sans, sans-serif">Current, μA</text>
<text x="3.8" y="230.3" font-size="12" fill="#222" font-family="Liberation Sans, sans-serif">(C)</text>
<rect x="23.5" y="238.25" width="226.0" height="180.14999999999998" fill="none" stroke="#505050" stroke-width="1"/>
<line x1="20.5" y1="418.2" x2="23.5" y2="418.2" stroke="#505050" stroke-width="0.8"/>
<text x="17.9" y="420.7" font-size="7.0" text-anchor="end" fill="#000000" font-family="Liberation Sans, sans-serif">-1</text>
<line x1="20.5" y1="385.5" x2="23.5" y2="385.5" stroke="#505050" stroke-width="0.8"/>
<text x="17.9" y="388.0" font-size="7.0" text-anchor="end" fill="#000000" font-family="Liberation Sans, sans-serif">0</text>
<line x1="20.5" y1="352.8" x2="23.5" y2="352.8" stroke="#505050" stroke-width="0.8"/>
<text x="17.9" y="355.3" font-size="7.0" text-anchor="end" fill="#000000" font-family="Liberation Sans, sans-serif">1</text>
<line x1="20.5" y1="320.1" x2="23.5" y2="320.1" stroke="#505050" stroke-width="0.8"/>
<text x="17.9" y="322.6" font-size="7.0" text-anchor="end" fill="#000000" font-family="Liberation Sans, sans-serif">2</text>
<line x1="20.5" y1="287.4" x2="23.5" y2="287.4" stroke="#505050" stroke-width="0.8"/>
<text x="17.9" y="289.9" font-size="7.0" text-anchor="end" fill="#000000" font-family="Liberation Sans, sans-serif">3</text>
<line x1="20.5" y1="254.7" x2="23.5" y2="254.7" stroke="#505050" stroke-width="0.8"/>
<text x="17.9" y="257.2" font-size="7.0" text-anchor="end" fill="#000000" font-family="Liberation Sans, sans-serif">4</text>
<line x1="21.7" y1="401.85" x2="23.5" y2="401.85" stroke="#505050" stroke-width="0.7"/>
<line x1="21.7" y1="369.15" x2="23.5" y2="369.15" stroke="#505050" stroke-width="0.7"/>
<line x1="21.7" y1="336.45" x2="23.5" y2="336.45" stroke="#505050" stroke-width="0.7"/>
<line x1="21.7" y1="303.75" x2="23.5" y2="303.75" stroke="#505050" stroke-width="0.7"/>
<line x1="21.7" y1="271.04999999999995" x2="23.5" y2="271.04999999999995" stroke="#505050" stroke-width="0.7"/>
<line x1="21.7" y1="238.35" x2="23.5" y2="238.35" stroke="#505050" stroke-width="0.7"/>
<line x1="39.64" y1="418.4" x2="39.64" y2="421.4" stroke="#505050" stroke-width="0.8"/>
<text x="39.64" y="429.29999999999995" font-size="7.0" text-anchor="middle" fill="#000000" font-family="Liberation Sans, sans-serif">0</text>
<line x1="71.93" y1="418.4" x2="71.93" y2="421.4" stroke="#505050" stroke-width="0.8"/>
<text x="71.93" y="429.29999999999995" font-size="7.0" text-anchor="middle" fill="#000000" font-family="Liberation Sans, sans-serif">100</text>
<line x1="104.22" y1="418.4" x2="104.22" y2="421.4" stroke="#505050" stroke-width="0.8"/>
<text x="104.22" y="429.29999999999995" font-size="7.0" text-anchor="middle" fill="#000000" font-family="Liberation Sans, sans-serif">200</text>
<line x1="136.51" y1="418.4" x2="136.51" y2="421.4" stroke="#505050" stroke-width="0.8"/>
<text x="136.51" y="429.29999999999995" font-size="7.0" text-anchor="middle" fill="#000000" font-family="Liberation Sans, sans-serif">300</text>
<line x1="168.8" y1="418.4" x2="168.8" y2="421.4" stroke="#505050" stroke-width="0.8"/>
<text x="168.8" y="429.29999999999995" font-size="7.0" text-anchor="middle" fill="#000000" font-family="Liberation Sans, sans-serif">400</text>
<line x1="201.09000000000003" y1="418.4" x2="201.09000000000003" y2="421.4" stroke="#505050" stroke-width="0.8"/>
<text x="201.09000000000003" y="429.29999999999995" font-size="7.0" text-anchor="middle" fill="#000000" font-family="Liberation Sans, sans-serif">500</text>
<line x1="233.38" y1="418.4" x2="233.38" y2="421.4" stroke="#505050" stroke-width="0.8"/>
<text x="233.38" y="429.29999999999995" font-size="7.0" text-anchor="middle" fill="#000000" font-family="Liberation Sans, sans-serif">600</text>
<line x1="23.495" y1="418.4" x2="23.495" y2="420.2" stroke="#505050" stroke-width="0.7"/>
<line x1="55.785" y1="418.4" x2="55.785" y2="420.2" stroke="#505050" stroke-width="0.7"/>
<line x1="88.075" y1="418.4" x2="88.075" y2="420.2" stroke="#505050" stroke-width="0.7"/>
<line x1="120.36500000000001" y1="418.4" x2="120.36500000000001" y2="420.2" stroke="#505050" stroke-width="0.7"/>
<line x1="152.655" y1="418.4" x2="152.655" y2="420.2" stroke="#505050" stroke-width="0.7"/>
<line x1="184.945" y1="418.4" x2="184.945" y2="420.2" stroke="#505050" stroke-width="0.7"/>
<line x1="217.235" y1="418.4" x2="217.235" y2="420.2" stroke="#505050" stroke-width="0.7"/>
<line x1="249.52500000000003" y1="418.4" x2="249.52500000000003" y2="420.2" stroke="#505050" stroke-width="0.7"/>
<line x1="23.5" y1="245.8" x2="245" y2="245.8" stroke="#dca2ac" stroke-width="1.1"/>
<path d="M243.3 244.6 L248 245.8 L243.3 247.0 Z" fill="#a83848"/>
<text x="142" y="253.3" font-size="6.2" font-weight="bold" text-anchor="middle" fill="#d82a3c" font-family="Liberation Sans, sans-serif">+0.95 V vs. RE (Detection)</text>
<circle cx="39.40" cy="372.81" r="1.65" fill="#595959"/>
<circle cx="40.10" cy="373.38" r="1.65" fill="#595959"/>
<circle cx="40.80" cy="374.12" r="1.65" fill="#595959"/>
<circle cx="41.50" cy="374.51" r="1.65" fill="#595959"/>
<circle cx="42.20" cy="374.88" r="1.65" fill="#595959"/>
<circle cx="42.90" cy="374.91" r="1.65" fill="#595959"/>
<circle cx="43.60" cy="375.49" r="1.65" fill="#595959"/>
<circle cx="44.30" cy="375.82" r="1.65" fill="#595959"/>
<circle cx="45.00" cy="376.20" r="1.65" fill="#595959"/>
<circle cx="45.70" cy="376.31" r="1.65" fill="#595959"/>
<circle cx="46.40" cy="377.55" r="1.65" fill="#595959"/>
<circle cx="47.10" cy="377.47" r="1.65" fill="#595959"/>
<circle cx="47.80" cy="378.71" r="1.65" fill="#595959"/>
<circle cx="48.50" cy="379.22" r="1.65" fill="#595959"/>
<circle cx="49.20" cy="378.94" r="1.65" fill="#595959"/>
<circle cx="49.90" cy="379.88" r="1.65" fill="#595959"/>
<circle cx="50.60" cy="380.74" r="1.65" fill="#595959"/>
<circle cx="51.30" cy="381.42" r="1.65" fill="#595959"/>
<circle cx="52.00" cy="381.41" r="1.65" fill="#595959"/>
<circle cx="52.70" cy="381.70" r="1.65" fill="#595959"/>
<circle cx="53.40" cy="382.11" r="1.65" fill="#595959"/>
<circle cx="54.10" cy="383.23" r="1.65" fill="#595959"/>
<circle cx="54.80" cy="383.02" r="1.65" fill="#595959"/>
<circle cx="55.50" cy="383.81" r="1.65" fill="#595959"/>
<circle cx="56.20" cy="383.87" r="1.65" fill="#595959"/>
<circle cx="56.90" cy="384.67" r="1.65" fill="#595959"/>
<circle cx="57.60" cy="385.52" r="1.65" fill="#595959"/>
<circle cx="58.30" cy="385.12" r="1.65" fill="#595959"/>
<circle cx="59.00" cy="385.37" r="1.65" fill="#595959"/>
<circle cx="59.70" cy="384.73" r="1.65" fill="#595959"/>
<circle cx="60.40" cy="384.71" r="1.65" fill="#595959"/>
<circle cx="61.10" cy="384.18" r="1.65" fill="#595959"/>
<circle cx="61.80" cy="384.20" r="1.65" fill="#595959"/>
<circle cx="62.50" cy="385.23" r="1.65" fill="#595959"/>
<circle cx="63.20" cy="385.30" r="1.65" fill="#595959"/>
<circle cx="63.90" cy="385.32" r="1.65" fill="#595959"/>
<circle cx="64.60" cy="385.74" r="1.65" fill="#595959"/>
<circle cx="65.30" cy="386.42" r="1.65" fill="#595959"/>
<circle cx="66.00" cy="386.12" r="1.65" fill="#595959"/>
<circle cx="66.70" cy="385.73" r="1.65" fill="#595959"/>
<circle cx="67.40" cy="385.32" r="1.65" fill="#595959"/>
<circle cx="68.10" cy="385.25" r="1.65" fill="#595959"/>
<circle cx="68.80" cy="385.02" r="1.65" fill="#595959"/>
<circle cx="69.50" cy="385.44" r="1.65" fill="#595959"/>
<circle cx="70.20" cy="384.64" r="1.65" fill="#595959"/>
<circle cx="70.90" cy="385.27" r="1.65" fill="#595959"/>
<circle cx="71.60" cy="385.30" r="1.65" fill="#595959"/>
<circle cx="72.30" cy="384.60" r="1.65" fill="#595959"/>
<circle cx="73.00" cy="385.28" r="1.65" fill="#595959"/>
<circle cx="73.70" cy="385.04" r="1.65" fill="#595959"/>
<circle cx="74.40" cy="385.16" r="1.65" fill="#595959"/>
<circle cx="75.10" cy="384.73" r="1.65" fill="#595959"/>
<circle cx="75.80" cy="384.93" r="1.65" fill="#595959"/>
<circle cx="76.50" cy="385.07" r="1.65" fill="#595959"/>
<circle cx="77.20" cy="385.74" r="1.65" fill="#595959"/>
<circle cx="77.90" cy="385.49" r="1.65" fill="#595959"/>
<circle cx="78.60" cy="385.41" r="1.65" fill="#595959"/>
<circle cx="79.30" cy="385.59" r="1.65" fill="#595959"/>
<circle cx="80.00" cy="385.58" r="1.65" fill="#595959"/>
<circle cx="80.70" cy="385.62" r="1.65" fill="#595959"/>
<circle cx="81.40" cy="385.93" r="1.65" fill="#595959"/>
<circle cx="82.10" cy="386.85" r="1.65" fill="#595959"/>
<circle cx="82.80" cy="386.61" r="1.65" fill="#595959"/>
<circle cx="83.50" cy="387.46" r="1.65" fill="#595959"/>
<circle cx="84.20" cy="387.10" r="1.65" fill="#595959"/>
<circle cx="84.90" cy="387.38" r="1.65" fill="#595959"/>
<circle cx="85.60" cy="387.86" r="1.65" fill="#595959"/>
<circle cx="86.30" cy="387.85" r="1.65" fill="#595959"/>
<circle cx="87.00" cy="388.33" r="1.65" fill="#595959"/>
<circle cx="87.70" cy="389.16" r="1.65" fill="#595959"/>
<circle cx="88.40" cy="389.40" r="1.65" fill="#595959"/>
<circle cx="89.10" cy="389.64" r="1.65" fill="#595959"/>
<circle cx="89.80" cy="389.79" r="1.65" fill="#595959"/>
<circle cx="90.50" cy="390.35" r="1.65" fill="#595959"/>
<circle cx="91.20" cy="390.67" r="1.65" fill="#595959"/>
<circle cx="91.90" cy="390.58" r="1.65" fill="#595959"/>
<circle cx="92.60" cy="391.00" r="1.65" fill="#595959"/>
<circle cx="93.30" cy="390.66" r="1.65" fill="#595959"/>
<circle cx="94.00" cy="391.53" r="1.65" fill="#595959"/>
<circle cx="94.70" cy="391.54" r="1.65" fill="#595959"/>
<circle cx="95.40" cy="392.08" r="1.65" fill="#595959"/>
<circle cx="96.10" cy="392.05" r="1.65" fill="#595959"/>
<circle cx="96.80" cy="391.54" r="1.65" fill="#595959"/>
<circle cx="97.50" cy="391.15" r="1.65" fill="#595959"/>
<circle cx="98.20" cy="391.75" r="1.65" fill="#595959"/>
<circle cx="98.90" cy="390.85" r="1.65" fill="#595959"/>
<circle cx="99.60" cy="390.97" r="1.65" fill="#595959"/>
<circle cx="100.30" cy="390.68" r="1.65" fill="#595959"/>
<circle cx="101.00" cy="390.45" r="1.65" fill="#595959"/>
<circle cx="101.70" cy="390.75" r="1.65" fill="#595959"/>
<circle cx="102.40" cy="391.09" r="1.65" fill="#595959"/>
<circle cx="103.10" cy="390.58" r="1.65" fill="#595959"/>
<circle cx="103.80" cy="391.06" r="1.65" fill="#595959"/>
<circle cx="104.50" cy="390.87" r="1.65" fill="#595959"/>
<circle cx="105.20" cy="391.22" r="1.65" fill="#595959"/>
<circle cx="105.90" cy="391.20" r="1.65" fill="#595959"/>
<circle cx="106.60" cy="391.13" r="1.65" fill="#595959"/>
<circle cx="107.30" cy="391.19" r="1.65" fill="#595959"/>
<circle cx="108.00" cy="391.20" r="1.65" fill="#595959"/>
<circle cx="108.70" cy="391.81" r="1.65" fill="#595959"/>
<circle cx="109.40" cy="391.42" r="1.65" fill="#595959"/>
<circle cx="110.10" cy="391.14" r="1.65" fill="#595959"/>
<circle cx="110.80" cy="391.74" r="1.65" fill="#595959"/>
<circle cx="111.50" cy="391.80" r="1.65" fill="#595959"/>
<circle cx="112.20" cy="391.28" r="1.65" fill="#595959"/>
<circle cx="112.90" cy="390.98" r="1.65" fill="#595959"/>
<circle cx="113.60" cy="390.94" r="1.65" fill="#595959"/>
<circle cx="114.30" cy="390.76" r="1.65" fill="#595959"/>
<circle cx="115.00" cy="390.89" r="1.65" fill="#595959"/>
<circle cx="115.70" cy="390.57" r="1.65" fill="#595959"/>
<circle cx="116.40" cy="390.61" r="1.65" fill="#595959"/>
<circle cx="117.10" cy="390.54" r="1.65" fill="#595959"/>
<circle cx="117.80" cy="390.72" r="1.65" fill="#595959"/>
<circle cx="118.50" cy="390.92" r="1.65" fill="#595959"/>
<circle cx="119.20" cy="390.70" r="1.65" fill="#595959"/>
<circle cx="119.90" cy="390.31" r="1.65" fill="#595959"/>
<circle cx="120.60" cy="390.22" r="1.65" fill="#595959"/>
<circle cx="121.30" cy="390.23" r="1.65" fill="#595959"/>
<circle cx="122.00" cy="390.01" r="1.65" fill="#595959"/>
<circle cx="122.70" cy="389.89" r="1.65" fill="#595959"/>
<circle cx="123.40" cy="389.56" r="1.65" fill="#595959"/>
<circle cx="124.10" cy="389.66" r="1.65" fill="#595959"/>
<circle cx="124.80" cy="390.23" r="1.65" fill="#595959"/>
<circle cx="125.50" cy="389.50" r="1.65" fill="#595959"/>
<circle cx="126.20" cy="389.86" r="1.65" fill="#595959"/>
<circle cx="126.90" cy="390.00" r="1.65" fill="#595959"/>
<circle cx="127.60" cy="390.24" r="1.65" fill="#595959"/>
<circle cx="128.30" cy="389.68" r="1.65" fill="#595959"/>
<circle cx="129.00" cy="389.76" r="1.65" fill="#595959"/>
<circle cx="129.70" cy="389.76" r="1.65" fill="#595959"/>
<circle cx="130.40" cy="389.86" r="1.65" fill="#595959"/>
<circle cx="131.10" cy="389.81" r="1.65" fill="#595959"/>
<circle cx="131.80" cy="390.17" r="1.65" fill="#595959"/>
<circle cx="132.50" cy="389.99" r="1.65" fill="#595959"/>
<circle cx="133.20" cy="389.92" r="1.65" fill="#595959"/>
<circle cx="133.90" cy="389.06" r="1.65" fill="#595959"/>
<circle cx="134.60" cy="388.98" r="1.65" fill="#595959"/>
<circle cx="135.30" cy="389.49" r="1.65" fill="#595959"/>
<circle cx="136.00" cy="389.57" r="1.65" fill="#595959"/>
<circle cx="136.70" cy="389.09" r="1.65" fill="#595959"/>
<circle cx="137.40" cy="389.09" r="1.65" fill="#595959"/>
<circle cx="138.10" cy="388.46" r="1.65" fill="#595959"/>
<circle cx="138.80" cy="388.72" r="1.65" fill="#595959"/>
<circle cx="139.50" cy="389.10" r="1.65" fill="#595959"/>
<circle cx="140.20" cy="388.91" r="1.65" fill="#595959"/>
<circle cx="140.90" cy="388.83" r="1.65" fill="#595959"/>
<circle cx="141.60" cy="388.67" r="1.65" fill="#595959"/>
<circle cx="142.30" cy="387.72" r="1.65" fill="#595959"/>
<circle cx="143.00" cy="387.29" r="1.65" fill="#595959"/>
<circle cx="143.70" cy="387.03" r="1.65" fill="#595959"/>
<circle cx="144.50" cy="387.00" r="1.05" fill="#595959"/>
<circle cx="144.50" cy="385.70" r="1.05" fill="#595959"/>
<circle cx="144.50" cy="384.40" r="1.05" fill="#595959"/>
<circle cx="144.50" cy="383.10" r="1.05" fill="#595959"/>
<circle cx="144.50" cy="381.80" r="1.05" fill="#595959"/>
<circle cx="144.50" cy="380.50" r="1.05" fill="#595959"/>
<circle cx="144.50" cy="379.20" r="1.05" fill="#595959"/>
<circle cx="144.50" cy="377.90" r="1.05" fill="#595959"/>
<circle cx="144.50" cy="376.60" r="1.05" fill="#595959"/>
<circle cx="144.50" cy="375.30" r="1.05" fill="#595959"/>
<circle cx="144.50" cy="374.00" r="1.05" fill="#595959"/>
<circle cx="144.50" cy="372.70" r="1.05" fill="#595959"/>
<circle cx="144.50" cy="371.40" r="1.05" fill="#595959"/>
<circle cx="144.50" cy="370.10" r="1.05" fill="#595959"/>
<circle cx="144.70" cy="367.50" r="1.25" fill="#595959"/>
<circle cx="144.70" cy="363.50" r="1.25" fill="#595959"/>
<circle cx="144.70" cy="357.90" r="1.25" fill="#595959"/>
<circle cx="144.70" cy="354.20" r="1.25" fill="#595959"/>
<circle cx="144.70" cy="349.90" r="1.25" fill="#595959"/>
<circle cx="144.70" cy="345.50" r="1.25" fill="#595959"/>
<circle cx="144.70" cy="341.20" r="1.25" fill="#595959"/>
<circle cx="144.70" cy="336.90" r="1.25" fill="#595959"/>
<circle cx="144.70" cy="332.60" r="1.25" fill="#595959"/>
<circle cx="144.70" cy="327.70" r="1.25" fill="#595959"/>
<circle cx="144.70" cy="322.30" r="1.25" fill="#595959"/>
<circle cx="144.70" cy="318.00" r="1.25" fill="#595959"/>
<circle cx="144.70" cy="314.40" r="1.25" fill="#595959"/>
<circle cx="144.70" cy="311.30" r="1.25" fill="#595959"/>
<circle cx="144.70" cy="308.60" r="1.25" fill="#595959"/>
<circle cx="144.70" cy="305.90" r="1.25" fill="#595959"/>
<circle cx="144.70" cy="303.20" r="1.25" fill="#595959"/>
<circle cx="144.70" cy="300.00" r="1.25" fill="#595959"/>
<circle cx="144.70" cy="297.00" r="1.25" fill="#595959"/>
<circle cx="144.70" cy="294.50" r="1.25" fill="#595959"/>
<circle cx="144.70" cy="291.50" r="1.25" fill="#595959"/>
<circle cx="144.70" cy="288.70" r="1.25" fill="#595959"/>
<circle cx="144.70" cy="286.00" r="1.25" fill="#595959"/>
<circle cx="144.70" cy="283.50" r="1.25" fill="#595959"/>
<polygon points="144.02,264.25 145.81,262.31 147.30,261.57 148.97,262.07 150.03,263.55 151.51,264.89 153.60,264.53 153.54,266.09 154.20,268.34 154.13,269.10 155.57,270.72 156.62,271.11 156.90,272.65 156.83,275.11 157.42,277.20 158.57,277.83 159.31,278.38 161.02,279.89 161.24,280.28 162.05,282.54 162.67,283.31 163.52,285.60 164.41,285.41 165.69,287.02 167.13,287.78 167.81,289.87 168.20,290.45 169.13,291.94 169.76,293.42 170.07,295.76 170.86,297.63 171.40,297.96 171.61,299.68 172.32,301.83 172.35,302.45 172.80,304.66 173.42,304.71 174.03,306.52 175.28,308.54 175.83,310.03 176.64,310.43 176.78,312.61 177.57,312.70 177.92,314.55 178.11,315.84 178.37,316.74 178.85,318.59 179.82,319.95 180.32,321.74 180.40,324.28 181.23,325.41 181.10,326.82 181.75,328.81 182.05,329.39 182.96,330.28 183.04,332.74 183.83,333.00 183.85,334.37 185.01,335.98 185.43,338.22 185.69,338.68 186.80,340.66 186.98,342.30 187.70,343.19 188.15,345.36 189.29,346.52 189.81,347.00 189.81,348.97 190.82,350.97 190.92,351.32 191.45,352.99 192.37,353.89 192.85,356.00 193.43,357.38 193.84,358.09 194.21,359.47 195.10,360.41 195.59,362.52 196.52,362.72 197.27,364.57 198.61,366.34 200.14,367.52 200.84,367.42 202.28,369.00 204.28,369.93 205.51,370.88 207.11,372.24 208.52,373.49 209.79,373.47 211.24,374.71 212.41,375.32 213.89,375.58 214.90,376.14 216.20,377.54 217.85,377.26 219.43,378.39 221.21,377.52 223.12,378.31 224.94,377.74 226.05,378.65 227.77,378.68 228.68,377.71 230.20,377.77 232.26,378.52 233.40,378.60 233.40,382.40 232.03,383.28 230.69,382.46 229.17,382.37 227.49,382.45 225.97,383.17 224.94,382.81 223.11,382.27 221.29,382.35 219.22,383.09 217.86,382.84 216.70,381.82 215.18,380.98 213.45,380.66 212.13,380.46 211.13,380.05 209.44,379.44 208.03,377.70 207.03,377.22 205.50,376.47 204.53,376.31 203.57,374.15 202.45,373.26 201.18,372.02 199.36,371.12 198.54,370.77 197.29,368.53 195.99,368.64 194.79,367.67 194.16,366.44 193.50,365.19 192.82,362.49 191.75,361.33 191.01,359.38 190.58,359.06 189.93,356.75 189.26,355.36 188.38,354.59 187.82,353.24 187.48,351.45 186.87,350.15 186.48,349.59 185.69,347.43 184.77,346.57 184.46,344.91 183.92,343.72 183.39,342.12 183.01,340.23 182.47,339.07 182.10,337.12 181.50,335.67 180.46,335.07 180.40,334.20 179.44,331.95 179.17,330.78 178.42,329.44 178.31,327.78 177.47,327.34 177.20,325.11 176.69,323.68 176.20,322.99 175.68,321.32 174.83,319.51 174.61,319.47 173.29,316.92 172.91,316.73 171.63,314.71 171.11,313.96 170.05,311.70 169.39,310.67 168.37,309.49 167.94,308.55 166.68,306.71 166.17,304.83 165.82,304.40 165.51,302.88 164.90,301.56 165.09,299.15 164.52,297.71 164.55,297.40 163.60,295.08 162.97,293.79 162.37,292.83 161.84,290.40 161.06,289.47 160.80,287.13 159.28,286.42 157.69,284.44 157.31,283.87 156.07,282.18 155.42,280.96 154.06,282.96 153.61,284.58 152.73,283.47 152.05,281.25 151.50,279.82 150.42,281.12 149.31,281.35 146.63,280.89 145.66,280.68 144.30,280.82" fill="#595959" stroke="#595959" stroke-width="0.8" stroke-linejoin="round"/>
<line x1="163.2" y1="265.6" x2="205.8" y2="358.8" stroke="#c86878" stroke-width="0.75"/>
<path d="M203.8 357.4 L206.9 362.3 L207.1 356.6 Z" fill="#b84050"/>
<text x="201.3" y="328.3" font-size="7.25" font-weight="bold" fill="#d82a3c" font-family="Liberation Sans, sans-serif">Electrode</text>
<text x="201.3" y="335.6" font-size="7.25" font-weight="bold" fill="#d82a3c" font-family="Liberation Sans, sans-serif">fouling</text>
<text x="123.5" y="362" font-size="6.4" text-anchor="middle" fill="#000" font-family="Liberation Sans, sans-serif">4-NP</text>
<text x="123.5" y="369" font-size="6.4" text-anchor="middle" fill="#000" font-family="Liberation Sans, sans-serif">addition</text>
<line x1="134" y1="373" x2="140.5" y2="380" stroke="#222" stroke-width="0.7"/>
<path d="M138.5 380.2 L142.5 382.2 L141.0 378.0 Z" fill="#222"/>
<text x="136.6" y="442.8" font-size="8.6" font-weight="bold" text-anchor="middle" fill="#111" font-family="Liberation Sans, sans-serif">Time, s</text>
<text transform="translate(9.3,327.5) rotate(-90)" font-size="8.6" font-weight="bold" text-anchor="middle" fill="#111" font-family="Liberation Sans, sans-serif">Current, μA</text>
<text x="272.3" y="230.3" font-size="12" fill="#222" font-family="Liberation Sans, sans-serif">(D)</text>
<rect x="304.47" y="246.88" width="26.5" height="171.52" fill="#646464" stroke="#3a3a3a" stroke-width="0.8"/>
<rect x="330.97" y="246.88" width="26.5" height="171.52" fill="#1f6ee4" stroke="#1c3a78" stroke-width="0.8"/>
<text x="317.72" y="257.28" font-size="8.2" font-weight="bold" text-anchor="middle" fill="#fff" font-family="Liberation Sans, sans-serif">100</text>
<text x="344.22" y="257.28" font-size="8.2" font-weight="bold" text-anchor="middle" fill="#fff" font-family="Liberation Sans, sans-serif">100</text>
<rect x="379.80" y="309.14" width="26.5" height="109.26" fill="#646464" stroke="#3a3a3a" stroke-width="0.8"/>
<rect x="406.30" y="251.17" width="26.5" height="167.23" fill="#1f6ee4" stroke="#1c3a78" stroke-width="0.8"/>
<text x="393.05" y="319.54" font-size="8.2" font-weight="bold" text-anchor="middle" fill="#fff" font-family="Liberation Sans, sans-serif">63.7</text>
<text x="419.55" y="261.57" font-size="8.2" font-weight="bold" text-anchor="middle" fill="#fff" font-family="Liberation Sans, sans-serif">97.5</text>
<rect x="455.13" y="397.47" width="26.5" height="20.93" fill="#646464" stroke="#3a3a3a" stroke-width="0.8"/>
<rect x="481.63" y="254.08" width="26.5" height="164.32" fill="#1f6ee4" stroke="#1c3a78" stroke-width="0.8"/>
<text x="468.38" y="407.87" font-size="8.2" font-weight="bold" text-anchor="middle" fill="#fff" font-family="Liberation Sans, sans-serif">12.2</text>
<text x="494.88" y="264.48" font-size="8.2" font-weight="bold" text-anchor="middle" fill="#fff" font-family="Liberation Sans, sans-serif">95.8</text>
<rect x="293.3" y="238.3" width="225.99999999999994" height="180.09999999999997" fill="none" stroke="#505050" stroke-width="1"/>
<line x1="290.3" y1="418.4" x2="293.3" y2="418.4" stroke="#505050" stroke-width="0.8"/>
<text x="287.7" y="420.9" font-size="7.0" text-anchor="end" fill="#000000" font-family="Liberation Sans, sans-serif">0</text>
<line x1="290.3" y1="384.096" x2="293.3" y2="384.096" stroke="#505050" stroke-width="0.8"/>
<text x="287.7" y="386.596" font-size="7.0" text-anchor="end" fill="#000000" font-family="Liberation Sans, sans-serif">20</text>
<line x1="290.3" y1="349.792" x2="293.3" y2="349.792" stroke="#505050" stroke-width="0.8"/>
<text x="287.7" y="352.292" font-size="7.0" text-anchor="end" fill="#000000" font-family="Liberation Sans, sans-serif">40</text>
<line x1="290.3" y1="315.48799999999994" x2="293.3" y2="315.48799999999994" stroke="#505050" stroke-width="0.8"/>
<text x="287.7" y="317.98799999999994" font-size="7.0" text-anchor="end" fill="#000000" font-family="Liberation Sans, sans-serif">60</text>
<line x1="290.3" y1="281.18399999999997" x2="293.3" y2="281.18399999999997" stroke="#505050" stroke-width="0.8"/>
<text x="287.7" y="283.68399999999997" font-size="7.0" text-anchor="end" fill="#000000" font-family="Liberation Sans, sans-serif">80</text>
<line x1="290.3" y1="246.87999999999997" x2="293.3" y2="246.87999999999997" stroke="#505050" stroke-width="0.8"/>
<text x="287.7" y="249.37999999999997" font-size="7.0" text-anchor="end" fill="#000000" font-family="Liberation Sans, sans-serif">100</text>
<line x1="291.5" y1="401.248" x2="293.3" y2="401.248" stroke="#505050" stroke-width="0.7"/>
<line x1="291.5" y1="366.94399999999996" x2="293.3" y2="366.94399999999996" stroke="#505050" stroke-width="0.7"/>
<line x1="291.5" y1="332.64" x2="293.3" y2="332.64" stroke="#505050" stroke-width="0.7"/>
<line x1="291.5" y1="298.33599999999996" x2="293.3" y2="298.33599999999996" stroke="#505050" stroke-width="0.7"/>
<line x1="291.5" y1="264.032" x2="293.3" y2="264.032" stroke="#505050" stroke-width="0.7"/>
<line x1="330.9666666666667" y1="418.4" x2="330.9666666666667" y2="421.4" stroke="#505050" stroke-width="0.8"/>
<text x="330.9666666666667" y="429.4" font-size="7.0" text-anchor="middle" fill="#000000" font-family="Liberation Sans, sans-serif">0 s</text>
<line x1="406.29999999999995" y1="418.4" x2="406.29999999999995" y2="421.4" stroke="#505050" stroke-width="0.8"/>
<text x="406.29999999999995" y="429.4" font-size="7.0" text-anchor="middle" fill="#000000" font-family="Liberation Sans, sans-serif">100 s</text>
<line x1="481.6333333333333" y1="418.4" x2="481.6333333333333" y2="421.4" stroke="#505050" stroke-width="0.8"/>
<text x="481.6333333333333" y="429.4" font-size="7.0" text-anchor="middle" fill="#000000" font-family="Liberation Sans, sans-serif">200 s</text>
<line x1="368.6333333333333" y1="418.4" x2="368.6333333333333" y2="420.2" stroke="#505050" stroke-width="0.7"/>
<line x1="443.96666666666664" y1="418.4" x2="443.96666666666664" y2="420.2" stroke="#505050" stroke-width="0.7"/>
<text x="406.3" y="443" font-size="8.6" font-weight="bold" text-anchor="middle" fill="#111" font-family="Liberation Sans, sans-serif">Time, s</text>
<text transform="translate(272,327.5) rotate(-90)" font-size="8.6" font-weight="bold" text-anchor="middle" fill="#111" font-family="Liberation Sans, sans-serif">% Signal</text>
</svg></body></html>
